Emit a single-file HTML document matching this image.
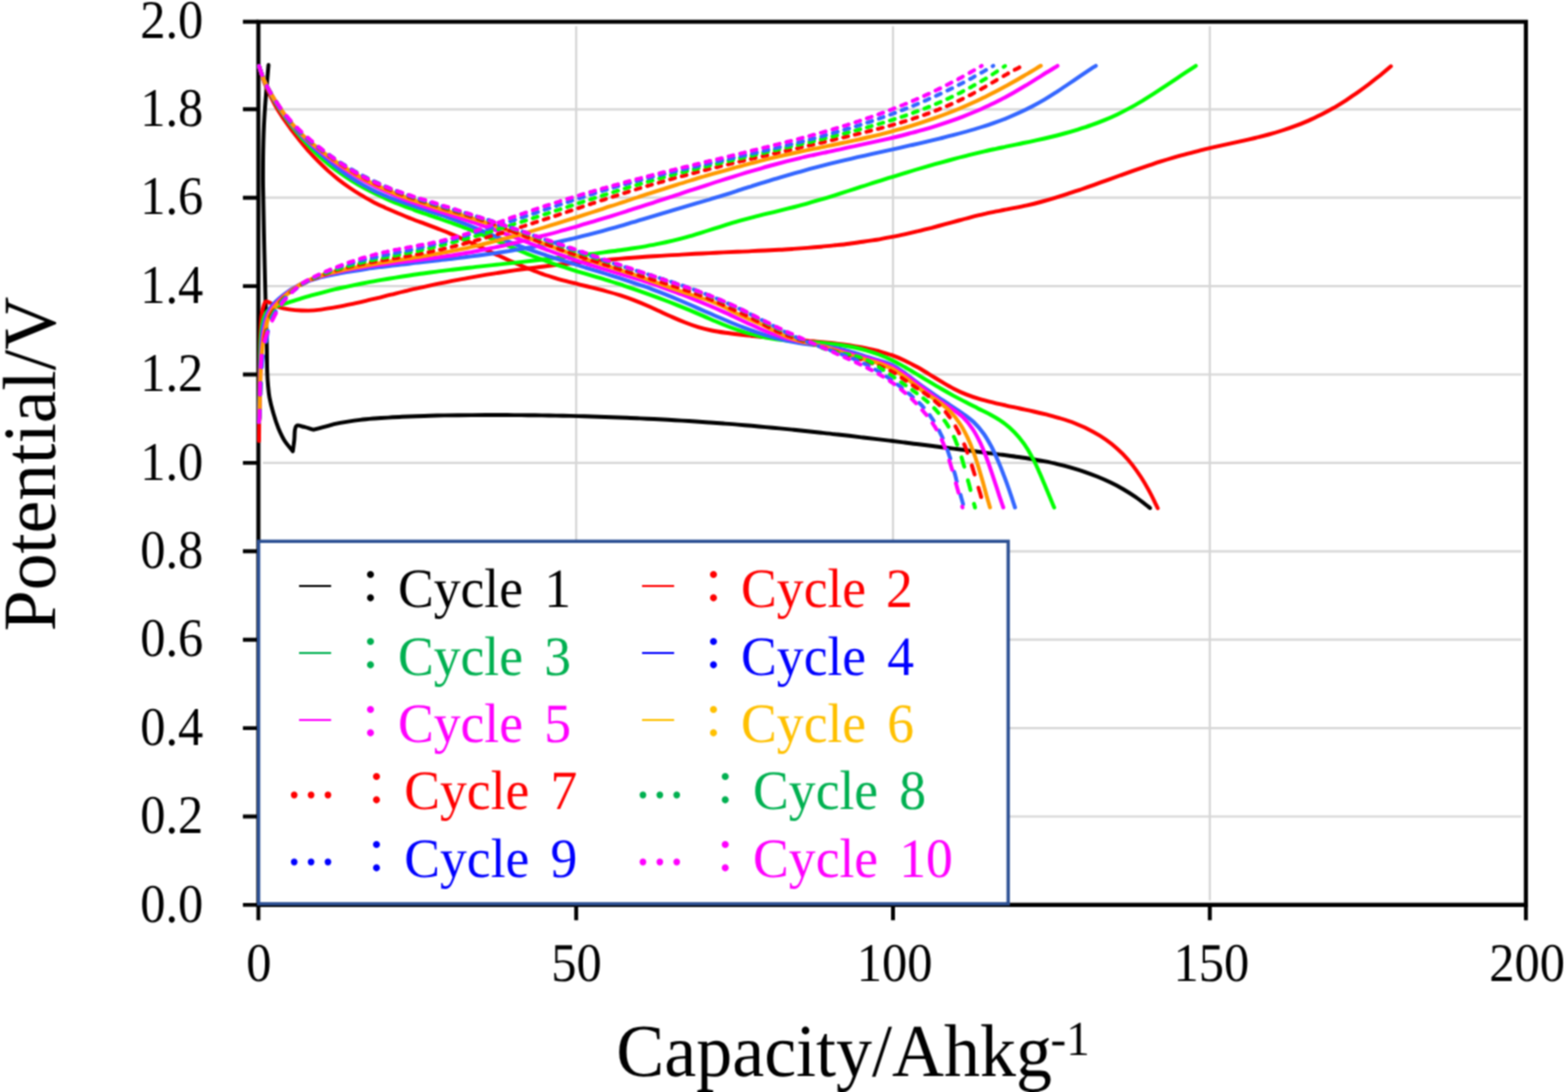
<!DOCTYPE html>
<html lang="en"><head><meta charset="utf-8"><title>Charge-discharge curves</title>
<style>html,body{margin:0;padding:0;background:#fff}body{width:1566px;height:1092px;overflow:hidden}svg{display:block}text{text-rendering:geometricPrecision}.t{font-family:"Liberation Serif","Noto Serif CJK SC",serif;fill:#000}.j{font-family:"Noto Sans CJK JP","Noto Sans CJK SC",sans-serif}.m{font-family:"Noto Serif CJK SC","Noto Sans CJK JP",serif}.c{fill:none;stroke-width:3.9;stroke-linecap:round;stroke-linejoin:round}.d{stroke-linecap:round}</style></head><body>
<svg width="1566" height="1092" viewBox="0 0 1566 1092">
<defs><filter id="soft" x="0" y="0" width="1566" height="1092" filterUnits="userSpaceOnUse" color-interpolation-filters="sRGB"><feConvolveMatrix order="3" kernelMatrix="1 2 1 2 4 2 1 2 1" divisor="16" edgeMode="duplicate" preserveAlpha="true"/></filter></defs>
<g filter="url(#soft)">
<rect width="1566" height="1092" fill="#fff"/>
<path d="M262.9 816.5H1521.4M262.9 728.1H1521.4M262.9 639.7H1521.4M262.9 551.3H1521.4M262.9 462.9H1521.4M262.9 374.5H1521.4M262.9 286.1H1521.4M262.9 197.7H1521.4M262.9 109.3H1521.4M576.2 26.2V900.4M893.0 26.2V900.4M1209.8 26.2V900.4" stroke="#d6d6d6" stroke-width="2.2" fill="none"/>
<g stroke="#000" stroke-width="4.1" fill="none">
<path d="M258.4 21.7H1525.9V904.9H258.4Z"/>
<path d="M242.9 904.9H258.4M242.9 816.5H258.4M242.9 728.1H258.4M242.9 639.7H258.4M242.9 551.3H258.4M242.9 462.9H258.4M242.9 374.5H258.4M242.9 286.1H258.4M242.9 197.7H258.4M242.9 109.3H258.4M242.9 21.7H258.4M258.4 904.9V920.2M576.2 904.9V920.2M893.0 904.9V920.2M1209.8 904.9V920.2M1525.9 904.9V920.2" stroke-width="3.9"/>
</g>
<g class="c">
<path d="M268.5 65.0C267.8 73.7 267.0 82.3 266.3 91.0C265.6 99.7 264.9 107.8 264.4 117.0C263.8 127.3 263.4 139.3 263.2 150.0C263.0 160.2 263.0 171.0 263.0 180.0C263.0 187.3 263.2 191.8 263.3 200.0C263.5 212.9 263.9 233.3 264.3 250.0C264.7 266.7 265.1 284.3 265.5 300.0C265.9 314.1 266.4 327.4 266.7 340.0C267.0 351.3 266.9 363.7 267.2 372.0C267.4 377.3 267.6 380.7 268.0 385.0C268.4 389.3 268.7 393.3 269.5 397.7C270.4 402.6 271.8 407.9 273.3 413.0C274.8 418.2 276.5 423.6 278.5 428.5C280.4 433.0 282.4 437.4 284.9 441.3C287.2 444.9 290.2 447.9 292.8 451.2L292.8 451.2C293.3 447.5 293.9 443.8 294.3 440.0C294.7 436.2 294.4 431.0 295.2 428.5C295.6 427.1 296.0 426.1 297.0 425.6C298.5 424.9 301.6 426.3 304.1 426.9C307.1 427.6 310.5 428.8 313.7 429.7L313.7 429.7C316.9 428.9 320.0 428.1 323.3 427.2C326.8 426.3 330.3 425.1 334.0 424.2C338.0 423.3 342.1 422.5 346.4 421.8C350.9 421.1 355.6 420.4 360.2 419.9C364.8 419.3 369.5 418.9 374.1 418.5C378.8 418.2 383.4 417.9 388.1 417.6C392.7 417.3 397.4 417.0 402.0 416.8C406.7 416.5 411.4 416.3 416.0 416.2C420.7 416.0 425.4 415.8 430.0 415.7C434.7 415.6 439.3 415.5 444.0 415.4C448.7 415.3 453.3 415.2 458.0 415.2C462.7 415.1 467.3 415.1 472.0 415.1C476.7 415.0 481.3 415.0 486.0 415.0C490.7 415.0 495.3 415.0 500.0 415.0C504.7 415.0 509.3 415.1 514.0 415.1C518.7 415.1 523.3 415.2 528.0 415.2C532.7 415.3 537.3 415.3 542.0 415.4C546.7 415.5 551.3 415.5 556.0 415.6C560.7 415.7 565.3 415.8 570.0 415.9C574.7 416.0 579.3 416.1 584.0 416.3C588.7 416.4 593.3 416.6 598.0 416.7C602.7 416.9 607.3 417.0 612.0 417.2C616.6 417.4 621.3 417.5 626.0 417.7C630.6 417.9 635.3 418.1 640.0 418.4C644.6 418.6 649.3 418.8 653.9 419.0C658.6 419.3 663.3 419.5 667.9 419.8C672.6 420.1 677.2 420.3 681.9 420.6C686.6 420.9 691.2 421.2 695.9 421.5C700.5 421.8 705.2 422.2 709.9 422.5C714.5 422.8 719.2 423.2 723.8 423.5C728.5 423.9 733.1 424.3 737.8 424.6C742.4 425.0 747.1 425.4 751.7 425.8C756.4 426.2 761.0 426.7 765.7 427.1C770.3 427.5 775.0 428.0 779.6 428.4C784.3 428.9 788.9 429.3 793.5 429.8C798.2 430.3 802.8 430.7 807.5 431.2C812.1 431.7 816.8 432.2 821.4 432.7C826.0 433.2 830.7 433.7 835.3 434.3C840.0 434.8 844.6 435.3 849.2 435.8C853.9 436.4 858.5 436.9 863.1 437.5C867.8 438.0 872.4 438.6 877.0 439.1C881.7 439.7 886.3 440.2 890.9 440.8C895.6 441.4 900.2 441.9 904.8 442.5C909.5 443.1 914.1 443.7 918.7 444.2C923.4 444.8 928.0 445.4 932.6 446.0C937.3 446.6 941.9 447.2 946.5 447.7C951.1 448.3 955.8 448.9 960.4 449.5C965.0 450.1 969.7 450.7 974.3 451.3C978.9 451.9 983.5 452.5 988.2 453.1C992.8 453.6 997.4 454.2 1002.1 454.8C1006.7 455.4 1011.3 456.0 1016.0 456.7C1020.6 457.3 1025.2 458.0 1029.8 458.7C1034.4 459.5 1039.0 460.3 1043.6 461.2C1048.2 462.1 1052.8 463.0 1057.4 464.1C1062.0 465.1 1066.5 466.3 1071.0 467.6C1075.5 468.9 1080.0 470.3 1084.5 471.8C1088.9 473.3 1093.4 475.0 1097.7 476.8C1102.1 478.6 1106.4 480.5 1110.7 482.6C1115.0 484.6 1119.2 486.9 1123.3 489.3C1127.4 491.7 1131.4 494.2 1135.4 496.9C1139.3 499.6 1144.3 503.5 1146.9 505.5C1148.3 506.6 1149.0 507.2 1150.0 508.0" stroke="#000"/>
<path d="M259.0 441.0C259.1 427.3 259.3 413.6 259.4 400.0C259.5 386.6 259.5 372.4 259.7 360.0C259.9 349.3 260.0 338.9 260.5 330.0C260.9 322.9 261.1 316.2 262.3 311.0C263.2 307.2 264.1 302.4 265.8 301.5C266.9 300.9 268.5 302.2 270.0 302.8C271.9 303.6 273.9 305.1 276.0 306.0C278.3 307.0 280.1 307.7 283.3 308.3C289.1 309.5 301.2 310.6 308.3 310.6C313.6 310.6 317.6 310.0 322.3 309.4C326.9 308.8 331.6 308.0 336.2 307.2C340.8 306.3 345.4 305.4 349.9 304.4C354.5 303.5 359.1 302.4 363.6 301.3C368.2 300.3 372.7 299.2 377.3 298.1C381.8 297.0 386.3 295.8 390.9 294.7C395.4 293.6 399.9 292.4 404.4 291.4C409.0 290.3 413.5 289.2 418.1 288.2C422.6 287.1 427.1 286.1 431.7 285.1C436.3 284.2 440.8 283.2 445.4 282.3C450.0 281.4 454.5 280.5 459.1 279.6C463.7 278.7 468.3 277.9 472.9 277.1C477.5 276.3 482.1 275.5 486.7 274.7C491.3 274.0 495.9 273.2 500.5 272.5C505.1 271.8 509.7 271.1 514.3 270.4C518.9 269.8 523.5 269.1 528.2 268.5C532.8 267.9 537.4 267.3 542.0 266.7C546.7 266.1 551.3 265.6 555.9 265.0C560.6 264.5 565.2 264.0 569.8 263.5C574.5 263.0 579.1 262.5 583.8 262.0C588.4 261.6 593.0 261.1 597.7 260.7C602.3 260.3 607.0 259.9 611.6 259.5C616.3 259.1 620.9 258.7 625.6 258.3C630.2 258.0 634.9 257.6 639.5 257.3C644.2 256.9 648.8 256.6 653.5 256.3C658.2 256.0 662.8 255.7 667.5 255.4C672.1 255.1 676.8 254.8 681.4 254.6C686.1 254.3 690.8 254.1 695.4 253.8C700.1 253.6 704.7 253.3 709.4 253.1C714.1 252.9 718.7 252.6 723.4 252.4C728.0 252.2 732.7 252.0 737.4 251.8C742.0 251.6 746.7 251.4 751.4 251.1C756.0 250.9 760.7 250.7 765.3 250.5C770.0 250.2 774.7 250.0 779.3 249.7C784.0 249.5 788.6 249.2 793.3 248.9C798.0 248.6 802.6 248.2 807.3 247.9C811.9 247.5 816.6 247.1 821.2 246.7C825.9 246.3 830.5 245.8 835.2 245.3C839.8 244.8 844.5 244.3 849.1 243.7C853.7 243.1 858.4 242.5 863.0 241.8C867.6 241.2 872.2 240.4 876.8 239.7C881.4 238.9 886.0 238.0 890.6 237.1C895.2 236.2 899.8 235.3 904.4 234.3C908.9 233.3 913.5 232.2 918.1 231.2C922.6 230.1 927.1 228.9 931.7 227.8C936.2 226.6 940.7 225.4 945.2 224.2C949.7 223.0 954.2 221.7 958.7 220.5C963.2 219.2 967.7 218.0 972.2 216.8C976.7 215.6 981.2 214.6 985.8 213.6C990.3 212.5 994.9 211.7 999.5 210.8C1004.0 209.9 1008.6 209.1 1013.2 208.2C1017.8 207.3 1022.4 206.4 1027.0 205.3C1031.5 204.3 1036.1 203.2 1040.6 202.0C1045.1 200.8 1049.6 199.5 1054.1 198.1C1058.6 196.8 1063.1 195.4 1067.5 193.9C1072.0 192.5 1076.4 191.0 1080.9 189.5C1085.3 187.9 1089.7 186.4 1094.1 184.8C1098.5 183.2 1102.9 181.7 1107.3 180.1C1111.7 178.5 1116.1 176.9 1120.5 175.3C1124.8 173.8 1129.2 172.2 1133.6 170.6C1138.0 169.1 1142.4 167.6 1146.8 166.1C1151.3 164.6 1155.7 163.2 1160.1 161.7C1164.5 160.3 1169.0 158.9 1173.4 157.6C1177.9 156.3 1182.4 155.0 1186.9 153.8C1191.4 152.6 1195.9 151.4 1200.4 150.3C1204.9 149.2 1209.4 148.2 1214.0 147.2C1218.5 146.2 1223.1 145.2 1227.6 144.2C1232.2 143.2 1236.8 142.2 1241.3 141.2C1245.9 140.1 1250.4 139.1 1255.0 138.0C1259.5 136.9 1264.1 135.7 1268.6 134.5C1273.1 133.3 1277.6 132.0 1282.1 130.5C1286.6 129.1 1291.0 127.6 1295.4 125.9C1299.9 124.3 1304.2 122.5 1308.6 120.6C1312.9 118.8 1317.2 116.7 1321.4 114.6C1325.6 112.4 1329.8 110.1 1333.9 107.8C1337.9 105.4 1342.0 102.9 1346.0 100.3C1349.9 97.7 1353.8 95.1 1357.7 92.4C1361.6 89.6 1365.4 86.8 1369.1 84.0C1372.9 81.1 1376.6 78.1 1380.3 75.2C1383.9 72.3 1387.4 69.3 1390.9 66.3" stroke="#ff0000"/>
<path d="M259.0 66.0C260.0 69.3 260.8 72.5 262.0 76.0C263.3 79.8 264.8 83.7 266.7 88.0C269.0 93.2 272.1 99.8 275.0 105.0C277.6 109.8 279.9 113.4 283.3 118.3C287.8 124.9 295.2 134.9 300.0 140.9C303.3 145.1 305.8 147.9 308.8 151.3C311.8 154.7 314.9 158.0 318.1 161.2C321.3 164.4 324.5 167.6 327.9 170.6C331.3 173.6 334.8 176.6 338.3 179.4C341.9 182.2 345.6 184.9 349.3 187.5C353.1 190.1 356.9 192.6 360.8 194.9C364.8 197.3 368.8 199.5 372.8 201.7C376.9 203.8 381.1 205.8 385.2 207.8C389.4 209.7 393.7 211.5 398.0 213.3C402.2 215.1 406.6 216.8 410.9 218.5C415.2 220.2 419.6 221.8 423.9 223.4C428.3 225.1 432.7 226.7 437.1 228.4C441.4 230.1 445.8 231.8 450.1 233.6C454.5 235.4 458.8 237.3 463.1 239.2C467.3 241.1 471.6 243.0 475.8 245.0C480.1 246.9 484.3 248.9 488.6 250.9C492.8 252.9 497.0 254.9 501.2 256.8C505.5 258.7 509.7 260.7 513.9 262.5C518.2 264.4 522.5 266.3 526.8 268.0C531.1 269.7 535.4 271.4 539.7 273.0C544.1 274.6 548.5 276.0 552.9 277.4C557.3 278.8 561.8 280.0 566.3 281.2C570.8 282.4 575.3 283.5 579.8 284.6C584.3 285.7 588.9 286.8 593.4 287.9C597.9 289.1 602.5 290.2 607.0 291.5C611.5 292.7 616.0 294.0 620.5 295.4C625.0 296.9 629.4 298.4 633.8 300.1C638.2 301.8 642.6 303.6 646.9 305.5C651.2 307.4 655.5 309.4 659.7 311.3C664.0 313.3 668.2 315.3 672.4 317.1C676.7 319.0 680.9 320.8 685.2 322.5C689.5 324.2 693.9 325.8 698.3 327.1C702.7 328.4 707.1 329.5 711.7 330.5C716.2 331.4 720.8 332.1 725.4 332.8C730.0 333.5 734.6 334.0 739.2 334.5C743.9 335.1 748.5 335.6 753.1 336.0C757.8 336.5 762.4 336.9 767.1 337.4C771.7 337.8 776.4 338.2 781.0 338.6C785.7 339.0 790.3 339.4 795.0 339.7C799.6 340.1 804.3 340.5 808.9 341.0C813.6 341.4 818.2 341.8 822.9 342.3C827.5 342.7 832.1 343.2 836.8 343.7C841.4 344.3 846.1 344.8 850.7 345.5C855.3 346.2 860.0 346.9 864.6 347.8C869.2 348.8 873.8 349.8 878.3 351.0C882.8 352.3 887.4 353.6 891.8 355.2C896.3 356.8 900.7 358.7 905.0 360.7C909.3 362.7 913.5 365.0 917.7 367.3C921.8 369.6 925.8 372.1 929.8 374.6C933.8 377.0 937.8 379.5 941.8 381.9C945.7 384.2 949.7 386.6 953.8 388.7C957.8 390.8 961.9 392.7 966.1 394.4C970.4 396.1 974.8 397.6 979.2 398.9C983.6 400.2 988.1 401.3 992.6 402.4C997.1 403.6 1001.6 404.5 1006.2 405.6C1010.7 406.6 1015.3 407.5 1019.9 408.5C1024.4 409.5 1029.0 410.4 1033.6 411.5C1038.1 412.5 1042.7 413.6 1047.2 414.7C1051.7 415.9 1056.3 417.1 1060.8 418.5C1065.3 419.9 1069.8 421.3 1074.2 423.0C1078.6 424.8 1083.0 426.6 1087.2 428.7C1091.5 430.8 1095.7 433.2 1099.8 435.7C1103.9 438.3 1107.9 441.0 1111.7 444.0C1115.5 447.1 1119.2 450.4 1122.7 453.9C1126.1 457.4 1129.4 461.2 1132.5 465.1C1135.5 469.0 1138.4 473.2 1141.1 477.3C1143.8 481.5 1146.3 485.8 1148.7 490.1C1151.1 494.4 1153.8 499.9 1155.4 503.3C1156.4 505.3 1156.9 506.6 1157.7 508.2" stroke="#ff0000"/>
<path d="M259.0 422.0C259.2 414.7 259.4 408.4 259.5 400.0C259.7 388.6 259.7 371.8 260.0 360.0C260.2 350.7 260.4 342.1 261.0 335.0C261.5 329.6 261.9 325.1 263.0 321.0C263.9 317.5 264.7 314.1 266.7 311.7C268.7 309.3 272.2 308.0 275.0 306.7C277.7 305.5 280.1 305.2 283.3 304.2C287.9 302.8 294.7 300.5 300.0 298.8C304.7 297.4 308.9 296.1 313.4 294.9C317.9 293.6 322.3 292.4 326.8 291.3C331.4 290.1 335.9 289.1 340.4 288.0C345.0 287.0 349.5 286.1 354.1 285.1C358.7 284.2 363.2 283.3 367.8 282.4C372.4 281.5 377.0 280.7 381.6 279.9C386.2 279.1 390.8 278.4 395.4 277.6C400.0 276.9 404.6 276.2 409.2 275.5C413.8 274.8 418.4 274.1 423.0 273.5C427.6 272.9 432.3 272.2 436.9 271.6C441.5 271.0 446.1 270.5 450.8 269.9C455.4 269.3 460.0 268.8 464.7 268.2C469.3 267.7 473.9 267.2 478.6 266.6C483.2 266.1 487.9 265.6 492.5 265.1C497.1 264.6 501.8 264.1 506.4 263.6C511.0 263.1 515.7 262.6 520.3 262.1C525.0 261.6 529.6 261.0 534.2 260.5C538.9 260.0 543.5 259.5 548.2 259.0C552.8 258.5 557.4 258.0 562.1 257.4C566.7 256.9 571.3 256.4 576.0 255.8C580.6 255.3 585.3 254.7 589.9 254.1C594.5 253.6 599.1 253.0 603.8 252.4C608.4 251.8 613.0 251.2 617.7 250.5C622.3 249.9 626.9 249.2 631.5 248.5C636.2 247.8 640.8 247.1 645.4 246.3C650.0 245.5 654.6 244.7 659.2 243.7C663.8 242.8 668.3 241.8 672.9 240.7C677.4 239.6 682.0 238.4 686.5 237.1C691.0 235.9 695.5 234.5 700.0 233.1C704.4 231.7 708.9 230.3 713.3 228.9C717.8 227.5 722.2 226.1 726.7 224.7C731.1 223.3 735.6 222.0 740.1 220.7C744.5 219.5 749.0 218.3 753.5 217.1C758.1 215.9 762.6 214.8 767.1 213.7C771.6 212.6 776.2 211.5 780.7 210.4C785.2 209.3 789.8 208.1 794.3 207.0C798.8 205.8 803.3 204.6 807.8 203.3C812.4 202.1 816.8 200.7 821.3 199.4C825.8 198.1 830.3 196.7 834.7 195.3C839.2 193.9 843.6 192.4 848.1 191.0C852.5 189.6 857.0 188.1 861.4 186.7C865.9 185.3 870.3 183.8 874.7 182.4C879.2 181.0 883.6 179.6 888.1 178.2C892.5 176.8 897.0 175.4 901.4 174.1C905.9 172.7 910.4 171.4 914.8 170.0C919.3 168.7 923.8 167.4 928.2 166.1C932.7 164.8 937.2 163.6 941.7 162.3C946.2 161.1 950.7 159.9 955.2 158.7C959.7 157.5 964.2 156.3 968.7 155.2C973.3 154.1 977.8 153.0 982.3 151.9C986.8 150.8 991.4 149.8 995.9 148.8C1000.5 147.8 1005.1 146.9 1009.6 145.9C1014.2 144.9 1018.8 144.0 1023.3 143.0C1027.9 142.1 1032.5 141.1 1037.0 140.1C1041.6 139.1 1046.1 138.1 1050.7 137.0C1055.2 135.9 1059.8 134.7 1064.3 133.5C1068.8 132.3 1073.3 131.0 1077.8 129.6C1082.3 128.2 1086.8 126.8 1091.2 125.2C1095.6 123.6 1100.0 121.9 1104.4 120.1C1108.8 118.3 1113.1 116.4 1117.3 114.4C1121.6 112.4 1125.8 110.2 1130.0 107.9C1134.1 105.7 1138.2 103.3 1142.3 100.9C1146.3 98.4 1150.3 95.9 1154.2 93.4C1158.2 90.8 1162.1 88.2 1166.0 85.6C1169.9 83.0 1173.8 80.4 1177.7 77.8C1181.5 75.2 1186.0 72.3 1189.3 70.1C1191.8 68.4 1193.6 67.2 1195.8 65.8" stroke="#00ff00"/>
<path d="M259.0 66.0C260.0 69.0 260.8 71.8 262.0 75.0C263.3 78.6 264.8 82.4 266.7 86.5C269.0 91.3 272.0 96.9 275.0 102.0C278.1 107.1 281.2 111.8 285.0 117.0C289.4 123.1 295.5 130.9 300.0 136.3C303.3 140.2 306.0 143.0 309.1 146.3C312.2 149.6 315.5 152.7 318.8 155.8C322.1 158.9 325.6 161.8 329.1 164.7C332.6 167.6 336.3 170.3 340.0 172.9C343.7 175.6 347.5 178.1 351.4 180.5C355.3 183.0 359.2 185.3 363.3 187.5C367.3 189.7 371.4 191.8 375.5 193.8C379.7 195.9 383.9 197.8 388.1 199.6C392.4 201.4 396.7 203.2 401.0 204.9C405.3 206.6 409.7 208.2 414.0 209.8C418.4 211.4 422.8 212.9 427.2 214.4C431.6 216.0 436.0 217.5 440.4 219.0C444.8 220.5 449.2 222.0 453.6 223.6C458.0 225.2 462.4 226.8 466.8 228.5C471.2 230.2 475.5 232.0 479.9 233.7C484.2 235.5 488.5 237.3 492.8 239.2C497.1 241.0 501.4 242.9 505.7 244.7C510.0 246.5 514.3 248.4 518.6 250.2C522.9 252.0 527.2 253.8 531.5 255.5C535.8 257.2 540.1 258.9 544.5 260.5C548.8 262.1 553.2 263.6 557.6 265.1C562.0 266.5 566.5 267.9 570.9 269.3C575.4 270.7 579.8 272.0 584.3 273.3C588.8 274.7 593.2 276.0 597.7 277.4C602.2 278.7 606.6 280.1 611.1 281.5C615.6 282.9 620.0 284.4 624.4 285.8C628.9 287.3 633.3 288.8 637.7 290.3C642.2 291.9 646.6 293.5 651.0 295.1C655.4 296.7 659.7 298.3 664.1 300.0C668.5 301.6 672.8 303.3 677.2 305.1C681.5 306.8 685.9 308.6 690.2 310.4C694.5 312.2 698.8 314.0 703.1 315.9C707.4 317.7 711.7 319.7 716.0 321.5C720.2 323.3 724.5 325.1 728.8 326.8C733.1 328.4 737.5 330.0 741.9 331.4C746.3 332.8 750.7 334.0 755.2 335.1C759.7 336.3 764.2 337.2 768.8 338.1C773.4 338.9 778.0 339.6 782.6 340.1C787.2 340.7 791.8 341.0 796.5 341.4C801.1 341.7 805.8 341.9 810.4 342.2C815.1 342.5 819.8 342.7 824.4 343.1C829.1 343.5 833.7 344.0 838.4 344.7C843.0 345.3 847.6 346.1 852.2 347.0C856.8 347.9 861.4 349.0 866.0 350.3C870.5 351.6 875.0 353.1 879.4 354.8C883.9 356.5 888.2 358.4 892.5 360.5C896.8 362.5 901.0 364.9 905.1 367.2C909.2 369.5 913.2 372.0 917.2 374.4C921.2 376.8 925.2 379.3 929.2 381.7C933.2 384.1 937.2 386.5 941.2 388.8C945.2 391.1 949.3 393.4 953.3 395.6C957.4 397.8 961.5 400.0 965.6 402.1C969.7 404.3 973.9 406.3 978.0 408.4C982.2 410.5 986.5 412.4 990.6 414.7C994.8 417.0 999.0 419.4 1003.0 422.3C1006.9 425.2 1010.8 428.5 1014.3 432.1C1017.9 435.7 1021.1 439.7 1024.1 443.9C1027.1 448.1 1029.7 452.6 1032.1 457.1C1034.6 461.5 1036.7 466.2 1038.7 470.8C1040.8 475.2 1042.6 479.7 1044.4 484.1C1046.2 488.5 1048.1 493.0 1049.8 497.1C1051.3 500.8 1052.7 504.0 1054.2 507.5" stroke="#00ff00"/>
<path d="M259.0 422.0C259.2 414.7 259.4 408.2 259.6 400.0C259.8 389.7 259.9 375.4 260.3 365.0C260.6 356.5 260.9 349.1 261.5 342.0C262.0 335.9 262.1 330.6 263.5 325.0C264.9 319.3 266.8 313.3 270.0 308.3C273.3 303.2 278.4 298.9 283.3 295.0C288.3 291.0 294.7 287.3 300.0 284.6C304.4 282.4 308.3 281.1 312.6 279.7C317.0 278.2 321.5 277.2 326.0 276.1C330.5 275.1 335.1 274.3 339.6 273.4C344.2 272.6 348.8 271.8 353.4 271.0C358.0 270.3 362.6 269.6 367.2 268.9C371.8 268.2 376.5 267.6 381.1 267.0C385.7 266.4 390.3 265.8 395.0 265.3C399.6 264.7 404.2 264.2 408.9 263.7C413.5 263.1 418.1 262.6 422.8 262.1C427.4 261.6 432.1 261.1 436.7 260.6C441.3 260.0 446.0 259.5 450.6 259.0C455.2 258.4 459.9 257.9 464.5 257.3C469.1 256.7 473.8 256.1 478.4 255.5C483.0 254.9 487.7 254.2 492.3 253.6C496.9 252.9 501.5 252.2 506.1 251.5C510.8 250.8 515.4 250.0 520.0 249.2C524.6 248.4 529.2 247.6 533.8 246.8C538.4 245.9 543.0 245.0 547.5 244.1C552.1 243.2 556.7 242.2 561.3 241.2C565.8 240.2 570.4 239.2 574.9 238.1C579.5 237.0 584.0 235.9 588.6 234.7C593.1 233.5 597.6 232.3 602.1 231.1C606.6 229.8 611.1 228.6 615.6 227.3C620.1 226.0 624.6 224.7 629.1 223.3C633.5 222.0 638.0 220.7 642.5 219.3C647.0 218.0 651.4 216.6 655.9 215.3C660.4 213.9 664.8 212.6 669.3 211.3C673.8 209.9 678.2 208.6 682.7 207.3C687.2 206.0 691.7 204.7 696.1 203.4C700.6 202.1 705.1 200.8 709.6 199.5C714.1 198.1 718.6 196.8 723.0 195.4C727.5 194.0 731.9 192.6 736.4 191.2C740.8 189.7 745.3 188.3 749.7 186.9C754.2 185.5 758.6 184.0 763.0 182.7C767.5 181.3 771.9 179.9 776.4 178.6C780.9 177.2 785.3 175.9 789.8 174.6C794.3 173.3 798.8 172.0 803.3 170.8C807.8 169.5 812.2 168.3 816.8 167.1C821.3 166.0 825.8 164.8 830.3 163.7C834.8 162.6 839.3 161.5 843.9 160.4C848.4 159.3 853.0 158.3 857.5 157.2C862.1 156.2 866.6 155.2 871.2 154.1C875.7 153.1 880.3 152.1 884.8 151.1C889.4 150.1 893.9 149.1 898.5 148.1C903.0 147.1 907.6 146.0 912.2 145.0C916.7 144.0 921.3 142.9 925.8 141.8C930.3 140.8 934.9 139.7 939.4 138.6C944.0 137.5 948.5 136.3 953.0 135.1C957.5 134.0 962.1 132.8 966.6 131.5C971.1 130.2 975.6 128.9 980.1 127.5C984.5 126.1 989.0 124.7 993.4 123.1C997.9 121.5 1002.3 119.9 1006.6 118.2C1011.0 116.4 1015.3 114.6 1019.6 112.6C1023.9 110.6 1028.2 108.5 1032.4 106.3C1036.6 104.1 1040.7 101.8 1044.8 99.4C1048.8 97.0 1052.8 94.4 1056.8 91.9C1060.7 89.3 1064.6 86.7 1068.5 84.0C1072.4 81.4 1076.2 78.8 1080.1 76.2C1083.9 73.6 1088.8 70.3 1091.7 68.4C1093.4 67.3 1094.4 66.7 1095.8 65.8" stroke="#3366ff"/>
<path d="M259.0 66.0C260.0 69.0 260.8 71.9 262.0 75.0C263.3 78.5 264.8 82.1 266.7 86.0C269.0 90.7 272.0 96.1 275.0 101.0C278.1 106.1 281.2 110.9 285.0 116.0C289.4 121.9 295.5 129.1 300.0 134.2C303.4 138.0 306.3 140.7 309.5 143.8C312.8 147.0 316.2 150.1 319.6 153.1C323.1 156.2 326.6 159.2 330.1 162.1C333.6 165.0 337.2 167.9 340.9 170.6C344.6 173.3 348.3 175.9 352.1 178.4C356.0 180.9 359.9 183.2 363.9 185.4C367.9 187.6 372.0 189.7 376.1 191.7C380.3 193.6 384.6 195.4 388.8 197.2C393.1 198.9 397.5 200.5 401.8 202.0C406.2 203.6 410.6 205.1 415.0 206.5C419.4 208.0 423.9 209.4 428.3 210.8C432.8 212.3 437.2 213.7 441.6 215.2C446.1 216.7 450.5 218.3 454.9 219.9C459.3 221.6 463.7 223.3 468.0 225.0C472.4 226.8 476.7 228.6 481.0 230.4C485.3 232.2 489.6 234.0 493.9 235.8C498.2 237.5 502.5 239.3 506.9 241.1C511.2 242.8 515.5 244.5 519.8 246.1C524.2 247.7 528.6 249.3 533.0 250.8C537.4 252.4 541.8 253.8 546.2 255.3C550.6 256.8 555.0 258.2 559.5 259.6C563.9 261.0 568.4 262.4 572.8 263.7C577.3 265.1 581.7 266.5 586.2 267.8C590.7 269.2 595.1 270.5 599.6 271.9C604.1 273.3 608.5 274.7 613.0 276.1C617.4 277.5 621.9 278.9 626.3 280.3C630.8 281.8 635.2 283.3 639.6 284.8C644.1 286.4 648.5 287.9 652.9 289.6C657.3 291.2 661.7 292.9 666.0 294.6C670.4 296.3 674.7 298.1 679.0 300.0C683.3 301.8 687.6 303.7 691.9 305.5C696.2 307.4 700.4 309.3 704.7 311.2C709.0 313.1 713.2 315.0 717.5 316.8C721.8 318.7 726.1 320.5 730.4 322.3C734.7 324.0 739.0 325.8 743.3 327.4C747.6 329.1 752.0 330.7 756.4 332.1C760.8 333.6 765.2 335.0 769.6 336.3C774.1 337.6 778.6 338.8 783.1 339.8C787.6 340.8 792.2 341.7 796.7 342.5C801.3 343.3 805.9 343.9 810.5 344.5C815.2 345.1 819.8 345.5 824.4 346.2C829.1 346.9 833.7 347.6 838.3 348.5C842.9 349.5 847.5 350.8 852.0 352.1C856.5 353.4 860.9 355.0 865.4 356.3C869.9 357.7 874.3 358.9 878.8 360.3C883.3 361.7 888.0 362.8 892.3 364.9C896.7 367.1 900.9 370.3 904.9 373.2C908.7 375.9 912.3 378.9 916.0 381.6C919.7 384.4 923.5 387.1 927.2 389.7C931.0 392.4 934.9 395.0 938.7 397.6C942.6 400.2 946.5 402.7 950.3 405.3C954.2 407.9 958.2 410.3 962.0 413.1C965.9 415.9 970.0 418.6 973.6 422.0C977.3 425.5 980.8 429.7 983.9 434.0C986.9 438.2 989.4 443.0 991.9 447.5C994.2 452.0 996.2 456.7 998.2 461.2C1000.2 465.8 1002.0 470.4 1003.7 475.0C1005.5 479.5 1007.1 484.1 1008.7 488.6C1010.3 493.2 1012.1 498.8 1013.3 502.3C1014.0 504.4 1014.4 505.8 1015.0 507.5" stroke="#3366ff"/>
<path d="M259.0 422.0C259.2 416.3 259.5 411.7 259.7 405.0C260.0 395.4 260.0 380.6 260.5 370.0C260.9 361.2 261.3 353.4 262.0 346.0C262.6 339.6 263.2 333.9 264.5 328.0C265.8 322.2 267.0 316.1 270.0 311.0C273.1 305.6 278.4 300.8 283.3 296.5C288.3 292.1 294.7 287.8 300.0 284.8C304.3 282.3 308.0 280.7 312.2 279.1C316.5 277.5 320.9 276.2 325.3 275.0C329.8 273.8 334.4 272.8 338.9 271.9C343.4 270.9 348.0 270.0 352.6 269.2C357.2 268.4 361.8 267.6 366.4 266.9C371.0 266.2 375.6 265.5 380.2 264.9C384.8 264.2 389.4 263.6 394.1 263.0C398.7 262.4 403.3 261.9 408.0 261.3C412.6 260.7 417.2 260.2 421.8 259.6C426.5 259.0 431.1 258.4 435.7 257.8C440.4 257.1 445.0 256.5 449.6 255.8C454.2 255.1 458.8 254.3 463.4 253.5C468.1 252.7 472.7 251.9 477.2 251.0C481.8 250.1 486.4 249.2 491.0 248.2C495.6 247.3 500.1 246.3 504.7 245.3C509.3 244.2 513.8 243.2 518.4 242.1C522.9 241.0 527.4 239.9 532.0 238.7C536.5 237.6 541.0 236.4 545.5 235.2C550.1 234.0 554.6 232.8 559.1 231.5C563.6 230.3 568.1 229.0 572.6 227.7C577.0 226.4 581.5 225.1 586.0 223.7C590.5 222.4 595.0 221.1 599.4 219.7C603.9 218.3 608.4 217.0 612.8 215.6C617.3 214.2 621.7 212.8 626.2 211.4C630.6 209.9 635.1 208.5 639.5 207.1C644.0 205.7 648.4 204.2 652.9 202.8C657.3 201.3 661.7 199.9 666.2 198.4C670.6 197.0 675.0 195.5 679.5 194.1C683.9 192.6 688.3 191.1 692.8 189.7C697.2 188.2 701.6 186.8 706.1 185.3C710.5 183.9 714.9 182.5 719.4 181.0C723.8 179.6 728.3 178.2 732.7 176.8C737.2 175.4 741.6 174.1 746.1 172.7C750.5 171.4 755.0 170.1 759.5 168.8C764.0 167.5 768.4 166.2 772.9 165.0C777.4 163.8 781.9 162.6 786.4 161.4C791.0 160.3 795.5 159.2 800.0 158.1C804.5 157.0 809.1 156.0 813.6 155.0C818.2 153.9 822.7 153.0 827.3 152.0C831.9 151.0 836.4 150.0 841.0 149.1C845.5 148.1 850.1 147.1 854.7 146.2C859.2 145.2 863.8 144.2 868.4 143.2C872.9 142.2 877.5 141.2 882.1 140.2C886.6 139.1 891.2 138.1 895.7 137.0C900.2 135.9 904.8 134.7 909.3 133.5C913.8 132.3 918.4 131.1 922.9 129.8C927.4 128.5 931.8 127.2 936.3 125.8C940.8 124.4 945.2 123.0 949.7 121.4C954.1 119.9 958.5 118.3 962.9 116.6C967.3 114.9 971.7 113.1 976.0 111.3C980.3 109.5 984.6 107.5 988.9 105.5C993.1 103.5 997.3 101.4 1001.5 99.3C1005.7 97.1 1009.8 94.8 1013.9 92.5C1018.0 90.1 1022.1 87.7 1026.1 85.3C1030.1 82.8 1034.1 80.3 1038.0 77.9C1042.0 75.4 1046.4 72.6 1049.9 70.5C1052.7 68.7 1055.0 67.4 1057.5 65.8" stroke="#ff00ff"/>
<path d="M259.0 66.0C260.0 69.0 260.8 71.9 262.0 75.0C263.3 78.5 264.8 82.1 266.7 85.9C269.0 90.5 272.0 95.7 275.0 100.5C278.1 105.5 281.2 110.4 285.0 115.5C289.4 121.3 295.4 128.3 300.0 133.2C303.5 136.9 306.4 139.5 309.8 142.5C313.1 145.5 316.7 148.5 320.2 151.3C323.8 154.2 327.4 157.0 331.1 159.8C334.8 162.5 338.5 165.2 342.3 167.7C346.2 170.3 350.0 172.7 354.0 175.1C357.9 177.5 361.9 179.7 366.0 181.9C370.0 184.1 374.2 186.1 378.3 188.1C382.5 190.1 386.7 192.0 391.0 193.8C395.2 195.7 399.5 197.4 403.8 199.1C408.1 200.8 412.5 202.3 416.9 203.9C421.3 205.5 425.7 207.0 430.1 208.4C434.5 209.9 438.9 211.3 443.4 212.7C447.8 214.2 452.3 215.6 456.7 217.0C461.1 218.4 465.6 219.8 470.0 221.3C474.5 222.8 478.9 224.2 483.3 225.8C487.8 227.3 492.2 228.9 496.6 230.5C501.0 232.1 505.3 233.8 509.7 235.5C514.1 237.1 518.4 238.8 522.8 240.5C527.1 242.2 531.5 243.9 535.8 245.5C540.2 247.2 544.5 248.9 548.9 250.5C553.3 252.2 557.6 253.8 562.0 255.4C566.4 257.0 570.8 258.5 575.2 260.0C579.6 261.5 584.0 262.9 588.4 264.3C592.9 265.7 597.3 267.0 601.8 268.4C606.2 269.7 610.7 271.0 615.2 272.3C619.7 273.6 624.2 275.0 628.6 276.3C633.1 277.7 637.6 279.1 642.0 280.5C646.5 281.9 650.9 283.4 655.4 284.9C659.8 286.4 664.2 288.0 668.6 289.6C673.0 291.2 677.4 292.8 681.8 294.5C686.1 296.2 690.5 297.9 694.8 299.6C699.2 301.4 703.5 303.2 707.8 305.0C712.1 306.8 716.4 308.7 720.7 310.6C725.0 312.5 729.3 314.4 733.5 316.4C737.8 318.4 742.0 320.4 746.2 322.4C750.4 324.3 754.6 326.3 758.9 328.2C763.1 330.0 767.4 331.8 771.7 333.5C776.0 335.1 780.4 336.6 784.8 337.8C789.2 339.1 793.7 340.1 798.2 341.1C802.8 342.1 807.4 342.9 811.9 343.9C816.5 344.8 821.1 345.8 825.7 346.9C830.2 348.0 834.7 349.3 839.3 350.5C843.8 351.8 848.2 353.1 852.7 354.3C857.2 355.5 861.7 356.6 866.2 357.9C870.8 359.1 875.3 360.2 879.8 361.8C884.3 363.4 888.8 365.1 893.1 367.3C897.4 369.5 901.5 372.2 905.5 374.9C909.5 377.6 913.2 380.6 917.0 383.5C920.8 386.3 924.4 389.3 928.1 392.1C931.8 394.9 935.4 397.7 939.1 400.3C942.9 403.0 946.8 405.1 950.6 407.8C954.6 410.6 958.8 413.3 962.4 416.7C966.1 420.3 969.6 424.6 972.6 429.0C975.6 433.4 978.0 438.2 980.3 442.9C982.6 447.6 984.5 452.4 986.3 457.2C988.1 461.8 989.7 466.5 991.2 471.1C992.8 475.7 994.2 480.2 995.7 484.7C997.2 489.1 998.7 493.9 1000.0 497.9C1001.2 501.4 1002.2 504.3 1003.3 507.5" stroke="#ff00ff"/>
<path d="M259.0 422.0C259.2 417.3 259.5 413.7 259.7 408.0C260.0 399.1 260.1 384.5 260.6 374.0C261.0 365.0 261.4 356.6 262.2 349.0C262.9 342.5 263.7 336.9 265.0 331.0C266.3 325.2 267.2 319.4 270.0 314.0C273.1 308.1 278.3 302.4 283.3 297.5C288.3 292.6 294.7 287.9 300.0 284.6C304.2 282.0 307.9 280.4 312.1 278.7C316.3 277.0 320.7 275.7 325.1 274.4C329.5 273.1 334.0 272.1 338.5 271.1C343.1 270.0 347.6 269.1 352.2 268.2C356.8 267.2 361.3 266.4 365.9 265.5C370.5 264.7 375.1 263.9 379.7 263.1C384.3 262.4 388.9 261.6 393.5 260.9C398.1 260.2 402.7 259.5 407.3 258.7C411.9 258.0 416.6 257.3 421.2 256.5C425.8 255.8 430.4 255.0 435.0 254.2C439.6 253.4 444.2 252.6 448.8 251.7C453.4 250.8 457.9 249.9 462.5 248.9C467.1 247.9 471.7 246.9 476.2 245.8C480.8 244.8 485.3 243.7 489.8 242.5C494.4 241.4 498.9 240.2 503.4 239.0C507.9 237.8 512.5 236.6 517.0 235.3C521.5 234.1 526.0 232.8 530.4 231.5C534.9 230.2 539.4 228.8 543.9 227.5C548.4 226.1 552.8 224.8 557.3 223.4C561.7 222.0 566.2 220.6 570.7 219.2C575.1 217.8 579.6 216.3 584.0 214.9C588.4 213.5 592.9 212.0 597.3 210.6C601.8 209.1 606.2 207.7 610.6 206.2C615.1 204.8 619.5 203.3 623.9 201.9C628.4 200.4 632.8 198.9 637.2 197.5C641.7 196.0 646.1 194.6 650.5 193.2C655.0 191.7 659.4 190.3 663.9 188.9C668.3 187.4 672.7 186.0 677.2 184.6C681.6 183.3 686.1 181.9 690.6 180.5C695.0 179.1 699.5 177.8 703.9 176.5C708.4 175.2 712.9 173.8 717.4 172.6C721.8 171.3 726.3 170.0 730.8 168.8C735.3 167.5 739.8 166.3 744.3 165.1C748.8 163.9 753.3 162.7 757.8 161.6C762.4 160.4 766.9 159.3 771.4 158.2C775.9 157.1 780.5 156.1 785.0 155.0C789.6 154.0 794.1 153.0 798.7 152.0C803.2 151.0 807.8 150.1 812.4 149.1C816.9 148.2 821.5 147.3 826.1 146.3C830.6 145.4 835.2 144.5 839.8 143.5C844.4 142.5 848.9 141.6 853.5 140.6C858.1 139.6 862.6 138.6 867.2 137.5C871.7 136.5 876.3 135.4 880.8 134.3C885.4 133.1 889.9 132.0 894.4 130.7C898.9 129.5 903.4 128.2 907.9 126.9C912.4 125.5 916.9 124.2 921.3 122.7C925.8 121.2 930.2 119.7 934.6 118.2C939.1 116.6 943.5 115.0 947.8 113.3C952.2 111.6 956.6 109.8 960.9 108.0C965.2 106.2 969.5 104.3 973.8 102.3C978.0 100.4 982.3 98.3 986.5 96.3C990.7 94.2 994.9 92.0 999.1 89.8C1003.2 87.6 1007.3 85.3 1011.4 83.0C1015.5 80.8 1019.6 78.4 1023.6 76.0C1027.7 73.7 1032.5 70.8 1035.7 68.9C1037.8 67.6 1039.1 66.8 1040.8 65.8" stroke="#ff9900"/>
<path d="M259.0 66.0C260.0 69.0 260.8 71.9 262.0 75.0C263.3 78.5 264.8 82.0 266.7 85.8C269.0 90.3 272.0 95.4 275.0 100.2C278.1 105.2 281.1 110.1 285.0 115.2C289.3 120.9 295.4 127.7 300.0 132.5C303.5 136.1 306.5 138.6 309.9 141.6C313.4 144.6 317.0 147.4 320.6 150.2C324.2 153.1 327.9 155.9 331.6 158.6C335.3 161.3 339.1 163.9 342.9 166.4C346.8 168.9 350.7 171.4 354.6 173.7C358.6 176.1 362.6 178.3 366.7 180.4C370.8 182.6 374.9 184.6 379.1 186.5C383.3 188.5 387.5 190.3 391.8 192.1C396.1 193.9 400.4 195.5 404.7 197.1C409.1 198.7 413.5 200.3 417.9 201.7C422.3 203.2 426.7 204.6 431.1 206.0C435.6 207.4 440.0 208.8 444.5 210.1C449.0 211.5 453.4 212.8 457.9 214.1C462.4 215.4 466.9 216.8 471.3 218.1C475.8 219.5 480.3 220.9 484.7 222.4C489.2 223.8 493.6 225.3 498.0 226.8C502.5 228.4 506.9 229.9 511.3 231.5C515.7 233.1 520.0 234.7 524.4 236.3C528.8 238.0 533.2 239.6 537.5 241.3C541.9 242.9 546.3 244.6 550.6 246.2C555.0 247.9 559.4 249.5 563.7 251.2C568.1 252.8 572.5 254.4 576.9 255.9C581.2 257.5 585.6 259.0 590.1 260.5C594.5 261.9 598.9 263.4 603.3 264.8C607.8 266.2 612.2 267.7 616.7 269.1C621.1 270.5 625.5 272.0 630.0 273.4C634.4 274.9 638.8 276.4 643.3 278.0C647.7 279.5 652.1 281.1 656.5 282.6C660.9 284.2 665.3 285.8 669.7 287.3C674.1 288.9 678.5 290.4 682.9 292.0C687.3 293.5 691.7 295.0 696.1 296.4C700.5 297.9 705.0 299.1 709.4 300.7C713.9 302.4 718.3 304.2 722.7 306.2C726.9 308.2 731.0 310.7 735.2 312.7C739.3 314.7 743.5 316.5 747.7 318.4C752.0 320.3 756.3 322.0 760.6 324.0C764.9 326.0 769.1 328.2 773.4 330.3C777.5 332.3 781.5 334.6 785.7 336.3C790.0 338.0 794.3 339.3 798.7 340.5C803.2 341.7 807.7 342.6 812.3 343.7C816.8 344.9 821.4 346.0 825.9 347.3C830.4 348.6 834.8 350.2 839.3 351.7C843.7 353.1 848.1 354.7 852.6 356.0C857.0 357.4 861.5 358.6 865.9 359.8C870.4 361.1 875.0 362.0 879.5 363.6C884.0 365.2 888.6 366.9 892.8 369.2C897.1 371.5 901.1 374.5 905.1 377.4C909.0 380.2 912.5 383.3 916.3 386.1C919.9 388.9 923.5 391.7 927.3 394.3C931.0 397.0 935.0 399.2 938.8 402.0C942.7 404.9 946.8 407.9 950.3 411.5C953.9 415.2 957.2 419.6 960.1 424.0C963.0 428.4 965.4 433.1 967.7 437.9C969.9 442.6 971.8 447.4 973.6 452.3C975.4 457.1 976.9 462.0 978.4 466.8C979.8 471.5 981.1 476.1 982.5 480.8C983.8 485.3 985.0 489.9 986.2 494.4C987.5 498.8 988.7 503.1 990.0 507.5" stroke="#ff9900"/>
<path class="d" d="M259.0 422.0L259.0 421.3L259.3 417.8L259.5 414.2L259.7 410.7M260.2 394.5L260.2 394.2L260.2 392.0L260.3 389.7L260.3 387.5L260.4 385.3L260.5 383.1M261.2 367.0L261.3 365.6L261.5 362.4L261.7 359.4L261.9 356.4L262.0 355.8M264.2 340.5L264.4 339.5L265.0 336.2L265.7 332.9L266.3 330.2M270.1 316.9L270.6 315.8L271.2 314.6L271.9 313.4L272.6 312.2L273.4 311.0L273.9 310.2M279.9 302.3L280.4 301.6L281.4 300.6L282.3 299.5L283.3 298.5L284.2 297.6M290.6 292.1L291.5 291.5L292.6 290.7L293.7 289.9L294.8 289.1L295.2 288.8M301.8 284.6L302.3 284.3L303.8 283.4L305.3 282.6L306.5 282.1M313.1 278.9L313.6 278.7L315.2 278.0L316.8 277.3L317.9 276.9M324.6 274.3L324.8 274.2L326.4 273.6L328.0 273.0L329.3 272.6M336.1 270.5L336.3 270.4L338.0 269.9L339.7 269.4L340.8 269.1M347.6 267.3L348.0 267.2L349.7 266.8L351.4 266.4L352.4 266.2M359.1 264.7L359.9 264.5L360.8 264.3L361.6 264.1L362.5 264.0L363.3 263.8L363.9 263.6M370.7 262.3L371.0 262.3L372.7 262.0L374.5 261.7L375.5 261.5M382.3 260.3L383.0 260.2L383.9 260.0L384.7 259.9L385.6 259.8L386.5 259.6L387.1 259.5M393.8 258.4L394.2 258.3L396.0 258.1L397.7 257.8L398.6 257.6M405.4 256.5L405.5 256.4L407.3 256.1L409.0 255.8L410.2 255.6M417.0 254.4L417.6 254.3L418.5 254.1L419.3 254.0L420.2 253.8L421.1 253.6L421.8 253.5M428.5 252.2L428.8 252.1L430.5 251.7L432.2 251.4L433.3 251.1M440.1 249.6L440.8 249.5L441.6 249.3L442.5 249.1L443.3 248.9L444.2 248.7L444.9 248.5M451.6 246.9L451.8 246.9L453.5 246.4L455.3 246.0L456.4 245.7M463.2 244.0L463.7 243.8L464.6 243.6L465.4 243.4L466.3 243.2L467.1 242.9L467.9 242.7M474.7 240.9L474.8 240.9L476.5 240.4L478.2 239.9L479.5 239.6M486.2 237.6L486.6 237.5L488.3 237.0L490.0 236.5L491.0 236.2M497.7 234.2L498.3 234.0L499.2 233.8L500.0 233.5L500.9 233.3L501.7 233.0L502.5 232.8M509.2 230.7L510.1 230.5L510.9 230.2L511.7 229.9L512.6 229.7L513.4 229.4L514.0 229.2M520.7 227.1L520.9 227.1L522.6 226.5L524.3 226.0L525.5 225.6M532.2 223.4L532.6 223.3L534.3 222.7L535.9 222.2L537.0 221.8M543.7 219.7L544.3 219.5L545.9 218.9L547.6 218.4L548.5 218.1M555.2 215.9L555.9 215.6L556.8 215.3L557.6 215.1L558.4 214.8L559.2 214.5L560.0 214.2M566.7 212.0L566.7 212.0L568.4 211.4L570.0 210.9L571.5 210.4M578.2 208.2L578.3 208.1L580.0 207.6L581.6 207.0L582.9 206.6M589.7 204.3L589.9 204.3L591.6 203.7L593.2 203.2L594.4 202.8M601.2 200.5L601.5 200.4L603.2 199.9L604.9 199.3L605.9 199.0M612.7 196.8L613.2 196.6L614.9 196.1L616.5 195.6L617.4 195.3M624.2 193.1L624.9 192.9L625.7 192.6L626.5 192.3L627.4 192.1L628.2 191.8L628.9 191.6M635.7 189.6L635.7 189.5L637.4 189.0L639.0 188.5L640.4 188.1M647.2 186.0L647.4 185.9L649.0 185.5L650.7 185.0L651.9 184.6M658.7 182.7L659.2 182.5L660.9 182.0L662.5 181.6L663.4 181.3M670.2 179.4L670.9 179.2L671.7 179.0L672.6 178.7L673.4 178.5L674.3 178.2L675.0 178.0M681.7 176.2L681.9 176.2L683.5 175.8L685.2 175.3L686.5 175.0M693.2 173.2L693.7 173.1L695.4 172.6L697.0 172.2L698.0 171.9M704.8 170.2L705.5 170.0L706.4 169.8L707.2 169.6L708.1 169.4L708.9 169.2L709.6 169.0M716.3 167.3L716.5 167.3L718.2 166.8L719.9 166.4L721.1 166.1M727.9 164.5L728.5 164.3L729.3 164.1L730.1 163.9L731.0 163.7L731.8 163.5L732.6 163.3M739.4 161.7L739.5 161.6L741.2 161.2L742.9 160.8L744.2 160.5M750.9 158.9L751.4 158.8L753.1 158.4L754.8 158.0L755.7 157.8M762.5 156.3L762.5 156.2L764.2 155.9L765.9 155.5L767.3 155.2M774.0 153.6L774.4 153.5L776.1 153.1L777.8 152.7L778.8 152.5M785.6 150.9L786.3 150.7L787.2 150.5L788.0 150.3L788.9 150.1L789.7 149.9L790.4 149.8M797.1 148.3L797.4 148.2L799.1 147.8L800.8 147.4L801.9 147.1M808.7 145.6L809.4 145.4L810.2 145.2L811.1 145.0L811.9 144.8L812.8 144.6L813.4 144.5M820.2 142.9L820.5 142.9L822.2 142.5L823.9 142.1L825.0 141.8M831.8 140.2L832.4 140.0L833.3 139.8L834.1 139.6L835.0 139.4L835.8 139.2L836.5 139.0M843.3 137.5L843.5 137.4L845.2 137.0L846.9 136.6L848.1 136.3M854.8 134.7L855.4 134.6L857.1 134.2L858.8 133.7L859.6 133.5M866.4 131.8L866.4 131.8L868.1 131.4L869.8 131.0L871.1 130.6M877.9 128.9L878.3 128.8L880.0 128.4L881.7 127.9L882.7 127.7M889.4 125.8L890.2 125.6L891.0 125.4L891.9 125.1L892.7 124.9L893.5 124.7L894.2 124.5M901.0 122.5L901.1 122.4L902.8 121.9L904.5 121.4L905.7 121.1M912.5 118.9L912.9 118.7L914.5 118.2L916.2 117.6L917.2 117.3M923.9 115.0L924.5 114.8L926.2 114.2L927.8 113.6L928.7 113.3M935.4 110.7L936.1 110.4L936.9 110.1L937.7 109.8L938.5 109.5L939.4 109.1L940.1 108.8M946.8 106.1L947.5 105.8L949.1 105.1L950.7 104.4L951.6 104.0M958.2 101.0L958.8 100.7L960.4 99.9L962.0 99.2L962.9 98.7M969.6 95.3L969.8 95.2L971.4 94.4L973.0 93.6L974.3 92.9M980.9 89.2L981.5 88.9L983.0 88.0L984.6 87.2L985.6 86.6M992.2 82.7L992.2 82.7L993.7 81.8L995.2 80.9L996.8 80.1L996.8 80.0M1003.4 76.1L1003.5 76.1L1005.0 75.2L1006.5 74.4L1008.0 73.5L1008.1 73.4M1014.7 69.8L1014.7 69.8L1016.4 69.0L1017.9 68.2L1019.2 67.5L1019.4 67.3" stroke="#ff0000"/>
<path class="d" d="M259.0 66.0L259.2 66.6L260.1 69.3L261.0 72.1L262.0 75.0M266.9 86.2L267.1 86.6L268.1 88.4L269.0 90.1L270.1 91.9L270.7 93.0M276.3 102.2L276.7 102.9L277.9 104.8L279.1 106.7L280.3 108.5M286.2 116.6L286.7 117.2L287.6 118.4L288.5 119.5L289.5 120.6L290.4 121.7L290.5 121.8M296.6 128.7L297.3 129.4L298.2 130.3L299.1 131.3L300.0 132.2L300.7 132.9L301.0 133.2M307.4 138.9L307.5 139.0L308.7 140.1L310.0 141.2L311.3 142.3L311.9 142.8M318.4 147.9L318.7 148.1L320.1 149.2L321.5 150.2L322.8 151.3L322.9 151.4M329.4 156.2L329.8 156.4L331.2 157.4L332.6 158.4L334.0 159.4L334.0 159.4M340.6 163.9L341.2 164.3L342.6 165.2L344.0 166.1L345.2 166.9M351.8 170.9L352.1 171.1L353.6 171.9L355.1 172.8L356.5 173.6M363.1 177.2L363.4 177.4L364.9 178.2L366.4 179.0L367.8 179.7M374.4 183.0L375.0 183.2L376.6 184.0L378.1 184.7L379.1 185.1M385.8 188.1L386.1 188.2L387.7 188.8L389.3 189.5L390.6 190.0M397.3 192.6L397.3 192.7L399.0 193.3L400.6 193.9L402.0 194.4M408.7 196.9L408.7 196.9L410.4 197.5L412.0 198.0L413.5 198.5M420.2 200.7L420.3 200.8L421.9 201.3L423.6 201.9L425.0 202.3M431.7 204.4L431.9 204.5L433.6 205.0L435.3 205.5L436.5 205.9M443.2 208.0L443.6 208.1L445.3 208.6L447.0 209.1L448.0 209.4M454.7 211.4L455.3 211.6L456.2 211.8L457.0 212.1L457.9 212.3L458.7 212.6L459.5 212.8M466.2 215.0L467.1 215.2L467.9 215.5L468.7 215.8L469.6 216.0L470.4 216.3L471.0 216.5M477.7 218.6L477.9 218.7L479.6 219.2L481.3 219.8L482.5 220.2M489.2 222.6L489.5 222.7L491.2 223.3L492.9 223.9L494.0 224.3M500.7 226.8L501.1 226.9L502.7 227.5L504.4 228.1L505.4 228.5M512.1 231.1L512.6 231.3L514.2 231.9L515.9 232.5L516.9 232.9M523.6 235.5L524.0 235.7L525.6 236.3L527.3 237.0L528.3 237.4M535.0 240.0L535.4 240.1L537.1 240.8L538.7 241.4L539.8 241.8M546.5 244.3L546.9 244.5L548.5 245.1L550.2 245.7L551.2 246.1M558.0 248.6L558.3 248.7L560.0 249.3L561.6 249.9L562.7 250.3M569.4 252.7L569.9 252.8L571.5 253.4L573.2 254.0L574.2 254.3M580.9 256.6L581.4 256.8L583.1 257.4L584.7 257.9L585.7 258.2M592.4 260.5L593.0 260.7L593.8 261.0L594.6 261.2L595.5 261.5L596.3 261.8L597.1 262.0M603.9 264.2L604.6 264.5L605.5 264.7L606.3 265.0L607.1 265.2L607.9 265.5L608.6 265.7M615.4 267.9L615.4 267.9L617.1 268.4L618.8 268.9L620.1 269.4M626.9 271.5L627.1 271.6L628.8 272.1L630.5 272.6L631.6 273.0M638.4 275.1L638.8 275.2L640.5 275.8L642.2 276.3L643.1 276.6M649.9 278.6L650.5 278.8L651.4 279.1L652.2 279.3L653.1 279.6L653.9 279.9L654.6 280.1M661.4 282.2L661.4 282.2L663.1 282.7L664.7 283.3L666.1 283.7M672.9 285.9L673.1 286.0L674.7 286.5L676.4 287.0L677.6 287.4M684.4 289.7L684.7 289.8L686.4 290.3L688.1 290.9L689.1 291.3M695.9 293.7L696.4 293.9L698.0 294.5L699.7 295.1L700.6 295.5M707.3 298.0L707.9 298.2L709.5 298.9L711.1 299.5L712.0 299.9M718.7 302.8L719.3 303.1L720.9 303.8L722.5 304.5L723.4 305.0M730.1 308.0L730.5 308.2L732.1 308.9L733.6 309.6L734.8 310.2M741.5 313.2L741.6 313.3L743.2 314.0L744.8 314.7L746.2 315.4M752.9 318.7L753.5 319.1L755.1 319.9L756.7 320.8L757.6 321.2M764.2 324.8L764.5 324.9L766.0 325.7L767.5 326.5L768.9 327.2M775.6 330.5L776.0 330.7L777.5 331.4L779.1 332.0L780.3 332.5M787.0 335.3L787.1 335.3L788.7 335.9L790.4 336.5L791.7 337.0M798.4 339.4L798.6 339.4L800.2 340.0L801.9 340.5L803.2 341.0M809.9 343.2L810.1 343.3L811.8 343.8L813.4 344.4L814.7 344.8M821.4 347.0L821.8 347.1L823.4 347.6L825.1 348.1L826.2 348.5M832.9 350.6L833.4 350.8L835.1 351.3L836.8 351.8L837.7 352.1M844.4 354.2L845.1 354.4L846.0 354.7L846.8 355.0L847.6 355.2L848.5 355.5L849.2 355.8M855.9 358.0L856.0 358.0L857.6 358.5L859.3 359.1L860.7 359.5M867.4 361.8L867.6 361.9L869.3 362.4L870.9 363.0L872.2 363.4M878.9 365.8L879.2 365.9L880.9 366.6L882.5 367.2L883.6 367.7M890.3 370.7L890.7 370.9L892.3 371.7L893.9 372.6L895.0 373.2M901.5 377.7L901.6 377.7L903.1 378.8L904.6 379.8L906.1 380.8L906.1 380.8M912.7 385.3L913.2 385.6L914.6 386.6L916.0 387.6L917.3 388.4M923.8 392.7L924.1 392.9L925.5 393.9L927.0 394.9L928.4 396.0L928.4 396.0M934.9 401.1L934.9 401.1L936.3 402.4L937.7 403.6L939.1 404.9L939.4 405.2M945.6 411.9L945.6 412.0L946.8 413.4L948.0 415.0L949.1 416.5L949.8 417.4M955.5 426.3L955.5 426.3L956.9 428.9L958.3 431.4L959.2 433.3M964.2 444.3L964.4 444.7L965.4 447.3L966.4 450.0L967.4 452.7L967.4 452.8M971.8 465.3L972.0 465.9L972.8 468.6L973.6 471.2L974.4 473.8L974.6 474.5M978.5 487.7L978.7 488.5L979.5 491.2L980.3 493.8L981.0 496.4L981.2 497.1" stroke="#ff0000"/>
<path class="d" d="M259.0 422.0L259.0 421.4L259.3 418.5L259.5 415.6L259.7 412.0L259.8 410.7M260.3 394.6L260.3 392.5L260.4 390.3L260.5 388.1L260.5 386.0L260.6 383.9L260.7 383.2M261.5 367.1L261.5 367.0L261.7 363.9L262.0 360.9L262.3 357.9L262.5 355.9M265.1 341.0L265.3 340.3L266.0 337.0L266.6 333.8L267.1 330.7M271.1 317.7L271.2 317.4L271.9 316.1L272.6 314.8L273.3 313.4L274.1 312.1L274.9 310.8M280.7 302.6L281.4 301.8L282.3 300.6L283.3 299.5L284.2 298.5L285.1 297.6M291.4 291.9L291.5 291.8L292.6 290.9L293.7 290.1L294.8 289.2L295.8 288.4L296.0 288.3M302.5 283.9L303.0 283.6L304.5 282.7L306.0 281.9L307.2 281.3M313.9 278.1L314.2 277.9L315.7 277.2L317.3 276.5L318.6 275.9M325.3 273.3L326.0 273.0L326.8 272.7L327.6 272.4L328.5 272.1L329.3 271.8L330.0 271.5M336.8 269.3L337.5 269.1L338.3 268.8L339.2 268.6L340.0 268.3L340.9 268.1L341.5 267.9M348.3 266.0L348.4 265.9L350.1 265.5L351.7 265.1L353.0 264.7M359.8 263.0L360.2 262.9L361.9 262.5L363.6 262.1L364.6 261.9M371.4 260.4L372.1 260.2L373.0 260.0L373.8 259.9L374.7 259.7L375.5 259.5L376.1 259.4M382.9 258.0L383.2 257.9L384.9 257.6L386.6 257.2L387.7 257.0M394.5 255.7L395.2 255.5L396.1 255.4L397.0 255.2L397.8 255.0L398.7 254.8L399.3 254.7M406.0 253.3L406.4 253.2L408.1 252.9L409.8 252.6L410.8 252.4M417.6 251.0L418.4 250.8L419.2 250.6L420.1 250.4L420.9 250.2L421.8 250.0L422.4 249.9M429.1 248.3L429.5 248.2L431.2 247.8L432.9 247.4L433.9 247.2M440.7 245.5L441.4 245.3L442.3 245.1L443.1 244.9L444.0 244.7L444.8 244.4L445.4 244.3M452.2 242.5L452.5 242.4L454.2 242.0L455.9 241.5L457.0 241.2M463.7 239.4L464.3 239.2L465.2 239.0L466.0 238.8L466.9 238.5L467.7 238.3L468.5 238.1M475.2 236.1L475.3 236.1L477.0 235.6L478.7 235.1L480.0 234.7M486.8 232.7L487.0 232.6L488.7 232.1L490.4 231.6L491.5 231.3M498.3 229.2L498.8 229.0L500.5 228.5L502.2 228.0L503.0 227.7M509.8 225.6L510.5 225.4L511.3 225.1L512.1 224.9L513.0 224.6L513.8 224.3L514.5 224.1M521.3 222.0L521.3 221.9L523.0 221.4L524.7 220.9L526.0 220.5M532.8 218.3L533.0 218.2L534.7 217.6L536.4 217.1L537.5 216.7M544.3 214.5L544.6 214.4L546.3 213.8L548.0 213.3L549.0 212.9M555.7 210.7L556.3 210.6L557.9 210.0L559.6 209.5L560.5 209.2M567.2 207.0L567.9 206.7L568.8 206.4L569.6 206.2L570.4 205.9L571.2 205.6L572.0 205.4M578.7 203.2L578.7 203.2L580.4 202.6L582.1 202.1L583.5 201.6M590.2 199.4L590.4 199.4L592.0 198.8L593.7 198.3L595.0 197.9M601.7 195.8L602.0 195.7L603.7 195.1L605.3 194.6L606.5 194.3M613.2 192.2L613.7 192.0L615.4 191.5L617.0 190.9L618.0 190.7M624.7 188.6L625.4 188.4L626.2 188.1L627.1 187.8L627.9 187.6L628.7 187.3L629.5 187.1M636.2 185.1L636.3 185.1L638.0 184.6L639.6 184.1L641.0 183.7M647.7 181.7L648.0 181.7L649.7 181.2L651.4 180.7L652.5 180.4M659.3 178.5L659.8 178.3L661.4 177.9L663.1 177.4L664.0 177.2M670.8 175.4L671.6 175.2L672.4 174.9L673.3 174.7L674.1 174.5L674.9 174.3L675.6 174.1M682.3 172.3L682.6 172.3L684.3 171.8L686.0 171.4L687.1 171.1M693.8 169.4L694.5 169.3L695.3 169.1L696.1 168.8L697.0 168.6L697.8 168.4L698.6 168.2M705.4 166.6L705.5 166.6L707.2 166.2L708.9 165.7L710.2 165.4M716.9 163.8L717.4 163.7L719.1 163.3L720.8 162.9L721.7 162.6M728.5 161.1L729.3 160.9L730.1 160.7L731.0 160.5L731.8 160.3L732.7 160.1L733.2 159.9M740.0 158.4L740.4 158.3L742.1 157.9L743.8 157.5L744.8 157.3M751.6 155.7L752.3 155.5L753.2 155.3L754.0 155.1L754.9 154.9L755.7 154.7L756.3 154.6M763.1 153.0L763.4 153.0L765.1 152.6L766.8 152.2L767.9 151.9M774.7 150.3L775.3 150.2L776.1 150.0L777.0 149.8L777.9 149.6L778.7 149.4L779.4 149.2M786.2 147.6L786.4 147.6L788.1 147.2L789.8 146.8L791.0 146.5M797.7 144.9L798.3 144.8L799.2 144.6L800.0 144.4L800.9 144.2L801.7 144.0L802.5 143.8M809.3 142.2L809.4 142.2L811.1 141.8L812.8 141.4L814.1 141.1M820.8 139.4L821.3 139.3L823.0 138.8L824.7 138.4L825.6 138.2M832.4 136.5L833.2 136.3L834.0 136.1L834.9 135.9L835.7 135.6L836.6 135.4L837.1 135.3M843.9 133.6L844.2 133.5L845.9 133.0L847.6 132.6L848.7 132.3M855.4 130.5L856.1 130.3L856.9 130.1L857.8 129.9L858.6 129.7L859.4 129.5L860.2 129.2M866.9 127.4L867.1 127.4L868.8 126.9L870.5 126.4L871.7 126.0M878.5 124.1L878.8 124.0L880.5 123.5L882.2 123.0L883.2 122.7M890.0 120.6L890.7 120.4L891.5 120.1L892.3 119.8L893.2 119.6L894.0 119.3L894.7 119.1M901.5 116.9L901.5 116.9L903.1 116.4L904.8 115.8L906.2 115.3M912.9 112.9L913.1 112.8L914.8 112.2L916.4 111.6L917.7 111.2M924.4 108.6L924.7 108.5L926.3 107.9L928.0 107.2L929.1 106.8M935.8 104.0L936.1 103.9L937.7 103.2L939.3 102.5L940.6 102.0M947.2 99.0L947.4 98.9L949.0 98.2L950.5 97.4L952.0 96.7M958.6 93.5L959.3 93.2L960.9 92.4L962.5 91.6L963.3 91.1M970.0 87.6L970.3 87.5L971.8 86.6L973.3 85.7L974.6 85.0M981.2 81.2L981.8 80.9L983.3 80.0L984.9 79.1L985.9 78.5M992.5 74.4L993.1 74.0L994.6 73.0L996.0 72.1L997.1 71.4M1003.6 66.9L1004.3 66.5L1005.0 66.0" stroke="#00ff00"/>
<path class="d" d="M259.0 66.0L259.2 66.6L260.1 69.3L261.0 72.1L262.0 75.0M266.9 86.2L267.1 86.6L268.1 88.4L269.0 90.1L270.1 91.9L270.7 93.0M276.3 102.2L276.7 102.8L277.9 104.7L279.1 106.6L280.3 108.4L280.3 108.5M286.2 116.6L286.7 117.1L287.6 118.2L288.5 119.4L289.5 120.5L290.4 121.6L290.5 121.7M296.7 128.5L297.3 129.1L298.2 130.1L299.1 131.0L300.0 131.9L300.7 132.6L301.1 133.0M307.5 138.7L307.6 138.8L308.8 139.8L310.1 140.9L311.4 142.0L312.0 142.4M318.5 147.4L318.9 147.7L320.2 148.8L321.6 149.8L323.0 150.8L323.0 150.9M329.6 155.5L330.0 155.8L331.4 156.8L332.8 157.8L334.2 158.7M340.7 163.0L340.8 163.1L342.2 164.0L343.7 164.9L345.2 165.8L345.4 165.9M351.9 169.9L352.5 170.2L354.0 171.1L355.5 171.9L356.6 172.5M363.2 176.1L363.9 176.5L365.5 177.3L367.0 178.0L367.9 178.5M374.6 181.8L374.8 181.8L376.4 182.6L377.9 183.3L379.3 184.0M386.0 186.9L386.6 187.2L388.2 187.8L389.8 188.5L390.7 188.9M397.4 191.5L397.9 191.7L399.5 192.3L401.1 192.9L402.2 193.3M408.9 195.7L409.3 195.9L410.9 196.5L412.6 197.0L413.7 197.4M420.4 199.7L420.9 199.9L422.5 200.4L424.2 201.0L425.1 201.3M431.9 203.4L432.5 203.6L433.3 203.9L434.2 204.1L435.0 204.4L435.8 204.6L436.6 204.9M443.4 206.9L444.1 207.2L445.0 207.4L445.8 207.7L446.6 207.9L447.5 208.2L448.1 208.4M454.9 210.4L455.0 210.4L456.7 210.9L458.4 211.4L459.7 211.8M466.4 213.8L466.8 213.9L468.5 214.4L470.2 214.9L471.2 215.2M477.9 217.3L478.5 217.5L479.4 217.8L480.2 218.1L481.0 218.3L481.9 218.6L482.7 218.8M489.4 221.0L489.4 221.0L491.1 221.5L492.8 222.1L494.2 222.5M500.9 224.7L501.1 224.8L502.7 225.3L504.4 225.9L505.7 226.3M512.4 228.7L512.7 228.8L514.4 229.4L516.0 229.9L517.1 230.3M523.9 232.7L524.2 232.8L525.9 233.4L527.5 234.0L528.6 234.4M535.3 236.8L535.8 237.0L537.5 237.5L539.1 238.1L540.1 238.5M546.8 240.9L547.4 241.1L549.0 241.7L550.6 242.3L551.5 242.6M558.3 245.0L558.9 245.2L560.5 245.8L562.1 246.4L563.0 246.7M569.7 249.2L570.4 249.4L572.0 249.9L573.7 250.5L574.5 250.8M581.2 253.2L581.9 253.4L582.7 253.7L583.5 254.0L584.4 254.3L585.2 254.6L586.0 254.8M592.7 257.1L593.5 257.4L594.3 257.6L595.2 257.9L596.0 258.2L596.8 258.5L597.4 258.7M604.2 260.9L604.3 260.9L605.9 261.5L607.6 262.0L608.9 262.4M615.7 264.5L615.9 264.6L617.6 265.1L619.2 265.7L620.4 266.0M627.2 268.2L627.6 268.3L629.3 268.8L631.0 269.3L631.9 269.6M638.7 271.8L639.3 272.0L640.1 272.2L641.0 272.5L641.8 272.8L642.6 273.0L643.4 273.3M650.2 275.4L651.0 275.6L651.8 275.9L652.7 276.2L653.5 276.4L654.3 276.7L654.9 276.9M661.7 279.0L661.9 279.1L663.5 279.6L665.2 280.2L666.4 280.6M673.2 282.9L673.5 283.0L675.2 283.5L676.8 284.1L677.9 284.5M684.7 286.7L685.1 286.9L686.8 287.5L688.4 288.1L689.4 288.5M696.1 290.9L696.6 291.1L698.3 291.7L699.9 292.3L700.9 292.6M707.6 295.2L708.2 295.4L709.8 296.1L711.4 296.7L712.3 297.1M719.0 299.8L719.6 300.0L721.2 300.7L722.9 301.4L723.7 301.8M730.4 304.7L730.9 304.9L732.5 305.6L734.1 306.3L735.2 306.8M741.8 309.9L742.1 310.1L743.7 310.9L745.3 311.6L746.5 312.2M753.2 315.7L753.9 316.1L755.5 317.0L757.0 317.9L757.8 318.4M764.5 322.0L764.7 322.1L766.2 322.9L767.7 323.7L769.2 324.5M775.8 327.7L776.2 327.9L777.8 328.7L779.4 329.4L780.5 329.9M787.2 332.9L787.3 332.9L788.9 333.6L790.5 334.3L791.9 334.9M798.6 337.8L799.3 338.1L800.9 338.8L802.5 339.5L803.3 339.9M810.0 342.8L810.6 343.1L812.2 343.8L813.8 344.4L814.8 344.8M821.5 347.5L821.8 347.7L823.4 348.3L825.0 348.8L826.2 349.2M832.9 351.3L833.2 351.4L834.9 351.9L836.6 352.3L837.7 352.6M844.5 353.8L845.1 353.9L845.9 354.0L846.8 354.1L847.6 354.2L848.5 354.3L849.3 354.4M856.1 356.0L856.3 356.1L858.0 356.6L859.8 357.2L860.8 357.5M867.5 360.3L868.1 360.6L869.7 361.4L871.3 362.4L872.2 362.9M878.8 367.1L879.0 367.2L880.5 368.1L882.0 369.1L883.4 370.0M889.9 374.4L890.1 374.5L891.5 375.5L893.0 376.5L894.4 377.5L894.5 377.6M901.1 382.2L901.7 382.6L903.1 383.6L904.5 384.6L905.7 385.4M912.2 389.9L912.4 390.1L913.8 391.1L915.3 392.2L916.7 393.2L916.8 393.3M923.3 398.2L923.8 398.7L925.2 399.8L926.6 401.0L927.8 402.0M934.1 408.1L934.7 408.7L936.0 410.1L937.2 411.5L938.5 412.9L938.5 412.9M944.4 420.5L944.9 421.1L946.0 422.7L947.1 424.4L948.1 426.0L948.5 426.7M953.8 436.7L954.2 437.5L955.1 439.4L955.8 441.3L956.6 443.2L957.2 444.8M961.5 457.3L961.8 458.1L962.6 460.9L963.4 463.7L964.2 466.4L964.3 466.7M967.9 480.3L967.9 480.4L968.9 483.8L969.8 487.2L970.5 490.0M974.0 503.8L974.1 503.9L974.3 504.8L974.5 505.7L974.8 506.6L975.0 507.5" stroke="#00ff00"/>
<path class="d" d="M259.0 422.0L259.0 421.5L259.3 418.8L259.6 415.8L259.9 410.8M260.4 394.6L260.4 393.1L260.5 391.0L260.6 388.9L260.7 386.9L260.8 384.9L260.9 383.3M261.8 367.2L261.8 366.9L262.1 363.9L262.4 360.9L262.8 358.0L263.1 356.2M266.1 341.8L266.3 341.1L266.9 337.8L267.4 334.5L267.8 331.3L267.9 331.1M271.9 318.3L272.5 316.9L273.3 315.5L274.1 314.0L274.9 312.6L275.7 311.3M281.4 302.8L282.3 301.7L283.3 300.5L284.2 299.4L285.2 298.4L285.8 297.8M292.1 291.9L292.6 291.5L293.7 290.6L294.8 289.7L295.9 288.8L296.6 288.3M303.1 283.6L303.7 283.2L305.2 282.3L306.6 281.5L307.8 280.8M314.4 277.2L314.6 277.1L316.2 276.4L317.7 275.6L319.1 275.0M325.8 272.0L326.4 271.8L328.0 271.2L329.6 270.5L330.6 270.2M337.3 267.6L337.6 267.5L339.3 267.0L340.9 266.4L342.0 266.1M348.8 264.0L349.3 263.8L350.9 263.4L352.6 262.9L353.5 262.6M360.3 260.8L361.0 260.6L361.8 260.4L362.7 260.2L363.5 260.0L364.3 259.8L365.1 259.6M371.8 258.1L372.0 258.0L373.7 257.7L375.4 257.3L376.6 257.0M383.4 255.5L383.9 255.4L384.8 255.2L385.6 255.0L386.5 254.9L387.4 254.7L388.2 254.5M394.9 253.1L395.0 253.1L396.8 252.7L398.5 252.4L399.7 252.1M406.5 250.8L407.0 250.6L407.9 250.4L408.7 250.3L409.6 250.1L410.5 249.9L411.3 249.7M418.1 248.2L418.2 248.2L419.9 247.8L421.6 247.4L422.8 247.1M429.6 245.5L430.1 245.3L431.0 245.1L431.8 244.9L432.7 244.7L433.5 244.5L434.4 244.3M441.1 242.5L441.2 242.5L442.9 242.1L444.6 241.6L445.9 241.3M452.7 239.3L453.0 239.2L454.7 238.8L456.4 238.3L457.4 238.0M464.2 236.0L464.8 235.8L465.6 235.5L466.5 235.3L467.3 235.0L468.2 234.8L468.9 234.6M475.7 232.5L475.7 232.5L477.4 232.0L479.1 231.5L480.4 231.1M487.2 228.9L487.4 228.8L489.1 228.3L490.7 227.7L491.9 227.4M498.7 225.2L499.1 225.1L500.8 224.5L502.4 224.0L503.4 223.6M510.2 221.4L510.7 221.2L512.4 220.7L514.1 220.1L514.9 219.8M521.6 217.6L522.4 217.3L523.2 217.0L524.0 216.8L524.9 216.5L525.7 216.2L526.4 216.0M533.1 213.7L534.0 213.4L534.8 213.1L535.6 212.8L536.4 212.5L537.2 212.3L537.9 212.0M544.6 209.8L544.8 209.7L546.4 209.2L548.1 208.6L549.4 208.2M556.1 205.9L556.3 205.8L558.0 205.2L559.6 204.7L560.9 204.3M567.6 202.1L568.0 202.0L569.6 201.4L571.3 200.8L572.3 200.5M579.1 198.3L579.6 198.1L581.3 197.6L582.9 197.1L583.8 196.8M590.6 194.6L591.3 194.4L592.1 194.1L592.9 193.8L593.8 193.6L594.6 193.3L595.3 193.1M602.1 191.0L602.1 191.0L603.7 190.5L605.4 190.0L606.8 189.6M613.6 187.6L613.8 187.5L615.4 187.0L617.1 186.5L618.3 186.1M625.1 184.3L625.5 184.2L627.2 183.7L628.9 183.2L629.9 183.0M636.6 181.1L637.4 180.9L638.2 180.7L639.0 180.5L639.9 180.2L640.7 180.0L641.4 179.9M648.2 178.1L648.3 178.0L650.0 177.6L651.7 177.1L652.9 176.8M659.7 175.1L660.1 175.0L661.8 174.6L663.5 174.2L664.5 173.9M671.2 172.3L672.1 172.1L672.9 171.9L673.7 171.7L674.6 171.5L675.4 171.3L676.0 171.1M682.8 169.5L683.1 169.4L684.8 169.0L686.5 168.6L687.5 168.4M694.3 166.8L695.0 166.7L695.9 166.5L696.7 166.3L697.6 166.1L698.4 165.9L699.1 165.7M705.9 164.2L706.1 164.1L707.8 163.7L709.5 163.3L710.6 163.0M717.4 161.5L718.0 161.4L718.9 161.2L719.7 161.0L720.6 160.8L721.5 160.6L722.2 160.4M729.0 158.9L729.1 158.8L730.8 158.4L732.5 158.1L733.7 157.8M740.5 156.2L741.1 156.1L741.9 155.9L742.8 155.7L743.6 155.5L744.5 155.3L745.3 155.2M752.0 153.6L752.2 153.6L753.9 153.2L755.6 152.8L756.8 152.5M763.6 150.9L764.1 150.8L765.0 150.6L765.8 150.4L766.7 150.2L767.5 150.0L768.4 149.8M775.1 148.2L775.2 148.2L776.9 147.8L778.6 147.4L779.9 147.1M786.7 145.4L787.1 145.3L788.8 144.9L790.5 144.4L791.4 144.2M798.2 142.5L799.0 142.3L799.8 142.1L800.7 141.9L801.5 141.7L802.4 141.5L803.0 141.3M809.7 139.6L810.0 139.5L811.7 139.0L813.4 138.6L814.5 138.3M821.3 136.5L821.9 136.3L822.7 136.1L823.5 135.9L824.4 135.6L825.2 135.4L826.0 135.1M832.8 133.2L832.8 133.2L834.5 132.7L836.2 132.2L837.6 131.8M844.3 129.8L844.6 129.7L846.3 129.2L848.0 128.7L849.1 128.4M855.8 126.3L856.4 126.2L857.2 125.9L858.0 125.6L858.9 125.4L859.7 125.1L860.6 124.8M867.3 122.6L868.1 122.4L868.9 122.1L869.7 121.8L870.5 121.6L871.4 121.3L872.1 121.1M878.8 118.7L878.9 118.7L880.5 118.1L882.2 117.5L883.5 117.1M890.3 114.7L890.4 114.6L892.1 114.0L893.7 113.4L895.0 112.9M901.7 110.3L902.0 110.2L903.6 109.6L905.2 108.9L906.5 108.5M913.2 105.8L913.4 105.7L915.0 105.0L916.6 104.4L917.9 103.8M924.6 100.9L924.7 100.9L926.3 100.2L927.9 99.5L929.3 98.8M936.0 95.9L936.7 95.5L937.5 95.2L938.3 94.8L939.1 94.4L939.9 94.0L940.7 93.7M947.4 90.5L947.9 90.3L949.5 89.5L951.0 88.8L952.1 88.3M958.7 84.9L958.9 84.8L960.5 84.0L962.1 83.2L963.4 82.6M970.1 79.0L970.6 78.7L972.2 77.9L973.7 77.0L974.7 76.4M981.3 72.7L981.6 72.6L983.3 71.6L985.0 70.6L986.0 70.0M992.6 66.2L992.6 66.2L992.8 66.1L993.1 65.9L993.3 65.8" stroke="#3366ff"/>
<path class="d" d="M259.0 66.0L259.2 66.6L260.1 69.3L261.0 72.1L262.0 74.9M266.8 86.1L267.1 86.6L268.1 88.4L269.0 90.1L270.1 91.9L270.6 92.9M276.2 102.0L276.7 102.8L277.9 104.7L279.1 106.6L280.2 108.3M286.1 116.4L286.7 117.1L287.6 118.2L288.5 119.3L289.5 120.5L290.3 121.5M296.5 128.2L297.3 129.0L298.2 130.0L299.1 130.9L300.0 131.8L300.7 132.5L300.9 132.6M307.2 138.3L307.6 138.6L308.8 139.6L310.1 140.7L311.5 141.8L311.7 142.0M318.1 146.9L318.2 147.0L319.6 148.1L321.0 149.1L322.4 150.1L322.7 150.3M329.2 154.9L329.5 155.1L330.9 156.1L332.3 157.1L333.7 158.1L333.8 158.1M340.3 162.5L340.9 162.9L342.3 163.8L343.8 164.7L344.9 165.4M351.4 169.4L351.9 169.6L353.4 170.5L354.9 171.4L356.1 172.0M362.7 175.6L363.2 175.9L364.7 176.7L366.3 177.5L367.3 178.1M374.0 181.2L374.1 181.3L375.6 182.0L377.2 182.8L378.7 183.4M385.3 186.4L386.0 186.6L387.5 187.3L389.1 188.0L390.0 188.3M396.7 191.0L397.2 191.2L398.8 191.8L400.4 192.4L401.4 192.8M408.1 195.2L408.6 195.4L410.2 196.0L411.9 196.5L412.8 196.9M419.5 199.1L420.1 199.3L421.0 199.6L421.8 199.8L422.6 200.1L423.4 200.4L424.2 200.6M430.9 202.8L431.8 203.0L432.6 203.3L433.4 203.5L434.3 203.8L435.1 204.0L435.7 204.2M442.4 206.2L442.6 206.3L444.3 206.8L446.0 207.3L447.1 207.6M453.8 209.6L454.4 209.7L456.0 210.2L457.7 210.7L458.6 211.0M465.3 213.0L465.3 213.0L467.0 213.5L468.7 214.0L470.0 214.4M476.7 216.4L477.1 216.5L478.7 217.0L480.4 217.5L481.5 217.8M488.2 219.9L488.8 220.1L489.6 220.4L490.4 220.6L491.3 220.9L492.1 221.2L492.9 221.5M499.6 223.7L500.4 224.0L501.3 224.2L502.1 224.5L503.0 224.8L503.8 225.0L504.3 225.2M511.0 227.5L511.2 227.6L512.9 228.2L514.5 228.8L515.8 229.2M522.5 231.5L522.8 231.6L524.5 232.2L526.1 232.8L527.2 233.2M533.9 235.6L534.4 235.7L536.0 236.3L537.6 236.9L538.6 237.2M545.3 239.7L545.9 239.9L546.7 240.2L547.5 240.5L548.4 240.8L549.2 241.1L550.0 241.4M556.7 243.8L557.5 244.0L558.3 244.3L559.1 244.6L559.9 244.9L560.8 245.2L561.4 245.4M568.1 247.9L568.2 247.9L569.8 248.5L571.5 249.1L572.8 249.5M579.5 251.9L579.7 252.0L581.4 252.6L583.0 253.1L584.2 253.6M590.9 255.9L591.3 256.0L592.9 256.6L594.6 257.1L595.7 257.5M602.4 259.7L602.8 259.9L604.5 260.4L606.1 261.0L607.1 261.3M613.8 263.5L614.5 263.7L615.3 264.0L616.1 264.3L616.9 264.5L617.8 264.8L618.5 265.1M625.2 267.2L625.2 267.2L626.9 267.7L628.6 268.2L629.9 268.7M636.7 270.8L636.9 270.9L638.6 271.4L640.3 271.9L641.4 272.3M648.1 274.4L648.6 274.6L650.3 275.1L652.0 275.6L652.8 275.9M659.5 278.1L660.3 278.3L661.1 278.6L662.0 278.9L662.8 279.1L663.6 279.4L664.3 279.6M671.0 281.8L671.2 281.8L672.8 282.4L674.5 282.9L675.7 283.3M682.4 285.6L682.8 285.7L684.5 286.3L686.1 286.9L687.1 287.2M693.8 289.6L694.4 289.8L696.0 290.4L697.7 291.0L698.5 291.3M705.2 293.9L705.9 294.2L706.7 294.5L707.5 294.8L708.3 295.1L709.1 295.4L709.9 295.7M716.6 298.5L717.3 298.8L718.1 299.1L718.9 299.5L719.7 299.8L720.5 300.1L721.3 300.5M727.9 303.4L728.6 303.7L730.2 304.4L731.8 305.2L732.6 305.6M739.3 308.7L739.8 308.9L741.3 309.7L742.9 310.5L743.9 311.0M750.5 314.3L750.8 314.4L752.4 315.2L753.9 316.0L755.2 316.6M761.8 320.0L762.5 320.3L764.1 321.1L765.6 321.9L766.5 322.4M773.1 325.8L773.4 326.0L775.0 326.8L776.5 327.6L777.8 328.2M784.4 331.6L785.1 332.0L786.6 332.7L788.2 333.5L789.1 333.9M795.7 337.0L796.1 337.2L797.6 337.9L799.2 338.6L800.4 339.1M807.1 341.8L807.2 341.9L808.8 342.5L810.4 343.1L811.8 343.7M818.5 346.1L818.6 346.2L820.2 346.7L821.9 347.3L823.2 347.8M829.9 350.1L830.1 350.2L831.8 350.8L833.4 351.3L834.6 351.8M841.3 354.2L841.7 354.3L843.3 354.9L845.0 355.5L846.0 355.9M852.7 358.6L853.1 358.7L854.8 359.4L856.4 360.1L857.4 360.5M864.0 363.6L864.5 363.8L866.1 364.6L867.7 365.4L868.7 365.9M875.3 369.5L875.6 369.7L877.1 370.6L878.7 371.5L879.9 372.2M886.4 376.5L887.0 376.8L888.4 377.9L889.9 378.9L891.0 379.7M897.5 384.5L897.8 384.7L899.2 385.8L900.6 386.9L902.0 388.0L902.0 388.1M908.4 393.2L908.9 393.6L910.3 394.8L911.6 395.9L912.9 397.1M919.2 402.9L919.7 403.4L921.0 404.7L922.3 406.0L923.5 407.4L923.6 407.5M929.6 415.0L930.1 415.7L931.2 417.3L932.3 418.9L933.4 420.5L933.6 420.9M939.1 430.5L939.1 430.7L940.4 433.3L941.7 435.9L942.7 438.0M947.3 449.7L947.6 450.4L948.5 453.1L949.4 455.9L950.3 458.6M954.2 471.7L954.3 472.1L955.1 474.8L955.8 477.4L956.4 480.0L956.8 481.3M960.5 494.8L960.6 495.4L961.8 499.5L962.7 502.8L963.1 504.2" stroke="#3366ff"/>
<path class="d" d="M259.0 422.0L259.0 421.6L259.3 419.2L259.5 416.6L259.7 410.7M259.9 394.5L259.9 394.1L259.9 391.6L260.0 389.2L260.0 386.8L260.0 384.4L260.1 383.1M260.8 367.0L260.8 366.4L261.1 362.5L261.4 358.8L261.7 355.8M264.6 341.2L264.7 340.8L265.4 338.3L266.2 335.9L267.1 333.5L267.5 332.2M272.2 320.6L272.3 320.4L273.2 318.6L274.1 316.8L275.0 315.0L275.9 313.3M281.5 304.1L282.0 303.4L282.6 302.5L283.3 301.7L284.2 300.7L285.1 299.6L285.8 298.8M292.0 292.2L292.4 291.8L293.5 290.7L294.7 289.7L295.8 288.6L296.4 288.1M302.9 283.0L302.9 283.0L304.3 282.1L305.7 281.3L307.1 280.5L307.6 280.2M314.2 276.8L314.4 276.7L316.0 275.9L317.5 275.2L318.9 274.6M325.6 271.6L326.2 271.4L327.8 270.7L329.4 270.0L330.3 269.6M337.0 267.0L337.5 266.8L339.1 266.2L340.7 265.5L341.8 265.1M348.5 262.6L348.9 262.5L350.5 261.9L352.2 261.4L353.2 261.0M360.0 258.8L360.4 258.7L362.1 258.2L363.7 257.7L364.7 257.4M371.5 255.5L372.1 255.3L372.9 255.1L373.8 254.9L374.6 254.7L375.5 254.4L376.3 254.2M383.0 252.5L383.1 252.5L384.8 252.1L386.5 251.8L387.8 251.5M394.6 250.0L395.0 249.9L396.7 249.6L398.4 249.3L399.4 249.1M406.1 247.8L406.1 247.8L407.8 247.5L409.6 247.2L410.9 246.9M417.7 245.6L418.2 245.5L419.9 245.2L421.6 244.9L422.5 244.8M429.3 243.5L429.4 243.4L431.1 243.1L432.8 242.7L434.0 242.5M440.8 241.0L441.4 240.8L442.2 240.6L443.1 240.4L443.9 240.2L444.8 240.0L445.6 239.8M452.4 238.1L452.5 238.0L454.2 237.6L455.9 237.1L457.1 236.7M463.9 234.7L464.3 234.5L466.0 234.0L467.6 233.5L468.6 233.2M475.4 230.9L476.0 230.7L476.8 230.4L477.7 230.1L478.5 229.8L479.3 229.5L480.1 229.2M486.8 226.8L487.6 226.5L488.4 226.2L489.2 225.9L490.0 225.6L490.9 225.3L491.6 225.0M498.3 222.6L499.0 222.3L499.8 222.0L500.7 221.7L501.5 221.4L502.3 221.1L503.0 220.8M509.7 218.3L509.8 218.3L511.4 217.7L513.0 217.1L514.5 216.6M521.2 214.2L522.0 213.9L522.9 213.6L523.7 213.3L524.5 213.0L525.3 212.7L526.0 212.5M532.7 210.2L532.8 210.2L534.4 209.6L536.0 209.1L537.5 208.6M544.2 206.3L544.4 206.3L546.0 205.7L547.7 205.2L548.9 204.8M555.7 202.6L556.0 202.5L557.6 202.0L559.3 201.5L560.4 201.1M567.2 199.0L567.7 198.9L569.3 198.3L571.0 197.8L571.9 197.5M578.7 195.5L579.4 195.3L580.2 195.0L581.0 194.8L581.9 194.5L582.7 194.3L583.4 194.0M590.2 192.1L590.3 192.0L591.9 191.6L593.6 191.1L595.0 190.7M601.7 188.8L602.0 188.7L603.7 188.2L605.3 187.8L606.5 187.4M613.2 185.6L613.8 185.4L615.5 185.0L617.2 184.5L618.0 184.3M624.8 182.4L625.6 182.2L626.4 182.0L627.3 181.7L628.1 181.5L629.0 181.3L629.5 181.1M636.3 179.3L636.6 179.3L638.3 178.8L640.0 178.4L641.1 178.1M647.8 176.4L648.5 176.2L649.3 176.0L650.2 175.8L651.0 175.5L651.9 175.3L652.6 175.1M659.4 173.4L659.4 173.4L661.1 172.9L662.8 172.5L664.1 172.2M670.9 170.5L671.4 170.4L673.0 170.0L674.7 169.5L675.7 169.3M682.4 167.6L683.2 167.4L684.1 167.2L684.9 167.0L685.8 166.8L686.6 166.6L687.2 166.5M694.0 164.8L694.3 164.7L696.0 164.3L697.7 163.9L698.7 163.7M705.5 162.0L706.2 161.9L707.0 161.6L707.9 161.4L708.7 161.2L709.6 161.0L710.3 160.9M717.0 159.2L717.2 159.2L718.9 158.8L720.6 158.3L721.8 158.1M728.6 156.4L729.1 156.3L730.0 156.1L730.8 155.9L731.7 155.7L732.5 155.5L733.4 155.3M740.1 153.6L740.2 153.6L741.9 153.2L743.6 152.8L744.9 152.4M751.7 150.7L752.1 150.6L753.8 150.2L755.5 149.8L756.4 149.6M763.2 147.9L764.0 147.7L764.8 147.5L765.7 147.3L766.5 147.1L767.4 146.9L768.0 146.7M774.7 145.0L775.0 145.0L776.7 144.5L778.4 144.1L779.5 143.8M786.3 142.1L786.9 141.9L787.7 141.7L788.6 141.5L789.4 141.3L790.3 141.1L791.0 140.9M797.8 139.1L797.9 139.1L799.6 138.6L801.3 138.2L802.6 137.8M809.3 136.0L809.8 135.8L811.5 135.4L813.2 134.9L814.1 134.7M820.9 132.8L821.6 132.6L822.4 132.4L823.3 132.1L824.1 131.9L825.0 131.6L825.6 131.4M832.4 129.4L832.5 129.4L834.2 128.9L835.8 128.4L837.1 128.0M843.9 125.9L844.2 125.8L845.9 125.3L847.6 124.8L848.6 124.4M855.4 122.3L855.9 122.1L857.6 121.5L859.3 121.0L860.1 120.7M866.9 118.4L867.6 118.2L868.4 117.9L869.2 117.6L870.1 117.3L870.9 117.0L871.6 116.8M878.3 114.4L878.4 114.4L880.0 113.8L881.7 113.2L883.1 112.7M889.8 110.1L889.8 110.1L891.5 109.5L893.1 108.9L894.5 108.3M901.2 105.6L901.3 105.6L902.9 105.0L904.6 104.3L906.0 103.7M912.7 100.9L912.7 100.9L914.3 100.2L915.9 99.5L917.4 98.9M924.1 95.9L924.8 95.6L925.6 95.2L926.4 94.9L927.2 94.5L928.0 94.1L928.8 93.8M935.5 90.6L936.0 90.4L937.5 89.6L939.1 88.9L940.2 88.4M946.8 85.0L947.0 84.9L948.6 84.1L950.1 83.3L951.5 82.6M958.2 79.2L958.7 78.8L960.3 78.0L961.8 77.2L962.8 76.6M969.5 72.9L969.8 72.7L971.4 71.8L973.0 70.9L974.1 70.3M980.7 66.4L980.9 66.3L981.2 66.1L981.4 66.0L981.7 65.8" stroke="#ff00ff"/>
<path class="d" d="M259.0 66.0L259.2 66.6L260.1 69.3L261.0 72.1L262.0 75.0M266.9 86.2L267.1 86.6L268.1 88.4L269.0 90.1L270.0 91.9L270.7 93.1M276.4 102.0L276.9 102.8L278.2 104.7L279.5 106.6L280.5 108.0M286.4 115.8L286.6 116.0L287.5 117.0L288.3 118.0L289.2 119.1L290.1 120.1L290.7 120.8M296.9 127.5L297.4 128.0L299.2 129.8L300.7 131.2L301.4 131.9M307.7 137.6L308.2 138.0L309.4 139.1L310.7 140.2L312.0 141.3L312.2 141.5M318.7 146.8L318.7 146.8L320.0 147.9L321.4 148.9L322.7 150.0L323.2 150.4M329.7 155.3L330.3 155.8L331.7 156.8L333.1 157.8L334.3 158.7M340.8 163.2L340.9 163.3L342.3 164.2L343.7 165.2L345.1 166.1L345.4 166.3M352.0 170.3L352.5 170.6L354.0 171.5L355.4 172.3L356.7 173.0M363.3 176.6L363.7 176.9L365.3 177.6L366.8 178.4L368.0 179.0M374.7 182.1L375.4 182.4L376.9 183.1L378.5 183.8L379.4 184.1M386.1 186.9L386.6 187.1L388.2 187.7L389.8 188.4L390.8 188.8M397.6 191.2L397.9 191.3L399.6 191.9L401.2 192.5L402.3 192.8M409.0 195.0L409.4 195.2L411.1 195.7L412.8 196.3L413.8 196.6M420.5 198.7L421.1 198.9L422.8 199.4L424.5 199.9L425.3 200.2M432.0 202.2L432.8 202.5L433.7 202.7L434.5 203.0L435.4 203.2L436.2 203.5L436.8 203.7M443.6 205.7L443.7 205.8L445.4 206.3L447.1 206.8L448.3 207.2M455.1 209.3L455.4 209.4L457.1 210.0L458.8 210.5L459.8 210.8M466.5 213.1L467.1 213.2L468.7 213.7L470.4 214.3L471.3 214.6M478.0 216.8L478.8 217.0L479.6 217.3L480.4 217.5L481.3 217.8L482.1 218.1L482.8 218.3M489.5 220.5L489.6 220.5L491.3 221.1L492.9 221.6L494.3 222.1M501.0 224.3L501.2 224.3L502.9 224.9L504.6 225.5L505.8 225.9M512.5 228.2L512.8 228.3L514.5 228.8L516.1 229.4L517.3 229.7M524.0 232.0L524.5 232.1L526.1 232.7L527.8 233.2L528.8 233.6M535.5 235.9L536.0 236.1L537.7 236.6L539.3 237.2L540.2 237.5M547.0 239.8L547.7 240.0L548.5 240.3L549.3 240.6L550.1 240.9L551.0 241.2L551.7 241.5M558.4 243.8L559.2 244.0L560.1 244.3L560.9 244.6L561.7 244.9L562.6 245.2L563.2 245.4M569.9 247.6L570.0 247.7L571.7 248.2L573.4 248.8L574.7 249.3M581.4 251.6L581.6 251.6L583.2 252.2L584.9 252.8L586.2 253.2M592.9 255.6L593.2 255.7L594.8 256.2L596.5 256.8L597.6 257.2M604.4 259.5L604.8 259.6L606.4 260.2L608.1 260.7L609.1 261.1M615.9 263.5L616.4 263.6L618.0 264.2L619.7 264.8L620.6 265.1M627.3 267.4L627.9 267.6L628.8 267.9L629.6 268.1L630.5 268.4L631.3 268.7L632.1 269.0M638.8 271.3L639.5 271.5L640.4 271.8L641.2 272.1L642.0 272.4L642.9 272.6L643.6 272.9M650.3 275.2L650.3 275.2L652.0 275.7L653.7 276.3L655.1 276.7M661.8 279.0L661.9 279.0L663.6 279.6L665.2 280.1L666.5 280.6M673.3 282.8L673.6 282.9L675.2 283.5L676.9 284.0L678.0 284.4M684.8 286.7L685.1 286.8L686.8 287.3L688.5 287.9L689.5 288.3M696.2 290.6L696.8 290.8L698.4 291.4L700.1 292.0L701.0 292.3M707.7 294.8L708.3 295.1L710.0 295.7L711.6 296.3L712.5 296.6M719.2 299.4L719.8 299.6L721.4 300.3L723.0 301.0L723.9 301.3M730.6 304.3L731.1 304.5L732.7 305.3L734.3 306.0L735.3 306.4M741.9 309.6L742.3 309.8L743.9 310.6L745.5 311.4L746.6 312.0M753.3 315.4L754.0 315.8L755.6 316.6L757.2 317.3L758.0 317.8M764.6 321.1L764.9 321.3L766.5 322.1L768.1 322.8L769.3 323.5M776.0 326.7L776.7 327.0L778.2 327.8L779.8 328.5L780.7 328.9M787.4 332.0L787.8 332.2L789.4 332.9L790.9 333.6L792.1 334.1M798.8 337.1L798.9 337.1L800.5 337.9L802.1 338.6L803.5 339.2M810.2 342.1L810.9 342.4L811.7 342.8L812.5 343.1L813.3 343.5L814.1 343.8L814.9 344.2M821.6 347.1L822.1 347.3L823.7 348.0L825.3 348.7L826.3 349.2M833.0 352.1L833.4 352.3L835.0 353.0L836.6 353.7L837.7 354.2M844.4 357.2L844.6 357.2L846.2 358.0L847.8 358.7L849.1 359.3M855.8 362.3L856.6 362.7L857.4 363.1L858.1 363.4L858.9 363.8L859.7 364.2L860.5 364.6M867.2 367.9L867.6 368.1L869.2 368.9L870.8 369.7L871.9 370.3M878.5 373.9L878.6 374.0L880.1 374.9L881.7 375.8L883.1 376.7M889.7 380.9L890.0 381.1L891.4 382.2L892.9 383.2L894.3 384.2M900.8 389.2L900.8 389.3L902.2 390.4L903.6 391.6L905.0 392.7L905.3 393.0M911.6 398.8L911.7 398.8L913.0 400.1L914.2 401.4L915.5 402.7L916.1 403.3M922.2 410.1L922.3 410.2L923.5 411.5L924.7 412.9L925.9 414.3L926.6 415.1M932.5 423.1L932.6 423.3L933.7 425.0L934.8 426.6L935.8 428.3L936.5 429.4M941.7 439.7L941.8 439.9L943.0 442.7L944.1 445.5L945.0 447.9M949.3 460.5L949.4 460.9L950.3 463.6L951.1 466.2L951.9 468.9L952.2 469.7M955.9 483.2L956.1 483.8L956.8 486.4L957.5 489.0L958.2 491.6L958.5 492.7M962.2 506.4L962.2 506.6L962.3 506.7L962.3 506.9L962.4 507.1L962.4 507.3L962.5 507.5" stroke="#ff00ff"/>
</g>
<text class="t" font-size="50.5" text-anchor="end" transform="translate(203.3 921.5) scale(1 1.08)">0.0</text>
<text class="t" font-size="50.5" text-anchor="end" transform="translate(203.3 833.1) scale(1 1.08)">0.2</text>
<text class="t" font-size="50.5" text-anchor="end" transform="translate(203.3 744.7) scale(1 1.08)">0.4</text>
<text class="t" font-size="50.5" text-anchor="end" transform="translate(203.3 656.3) scale(1 1.08)">0.6</text>
<text class="t" font-size="50.5" text-anchor="end" transform="translate(203.3 567.9) scale(1 1.08)">0.8</text>
<text class="t" font-size="50.5" text-anchor="end" transform="translate(203.3 479.5) scale(1 1.08)">1.0</text>
<text class="t" font-size="50.5" text-anchor="end" transform="translate(203.3 391.1) scale(1 1.08)">1.2</text>
<text class="t" font-size="50.5" text-anchor="end" transform="translate(203.3 302.7) scale(1 1.08)">1.4</text>
<text class="t" font-size="50.5" text-anchor="end" transform="translate(203.3 214.3) scale(1 1.08)">1.6</text>
<text class="t" font-size="50.5" text-anchor="end" transform="translate(203.3 125.9) scale(1 1.08)">1.8</text>
<text class="t" font-size="50.5" text-anchor="end" transform="translate(203.3 37.5) scale(1 1.08)">2.0</text>
<text class="t" font-size="50.5" text-anchor="middle" transform="translate(258.9 980.7) scale(1 1.08)">0</text>
<text class="t" font-size="50.5" text-anchor="middle" transform="translate(576.5 980.7) scale(1 1.08)">50</text>
<text class="t" font-size="50.5" text-anchor="middle" transform="translate(894.6 980.7) scale(1 1.08)">100</text>
<text class="t" font-size="50.5" text-anchor="middle" transform="translate(1211.4 980.7) scale(1 1.08)">150</text>
<text class="t" font-size="50.5" text-anchor="middle" transform="translate(1527.0 980.7) scale(1 1.08)">200</text>
<text class="t" font-size="72" transform="translate(616.2 1075.6) scale(1 1.036)">Capacity/Ahkg<tspan font-size="47" dx="-1.5" dy="-20.3">-1</tspan></text>
<text class="t" font-size="73.4" text-anchor="middle" transform="translate(54.8 464.0) rotate(-90) scale(1 1.025)">Potential/V</text>
<rect x="258.6" y="541.3" width="749.6" height="362.5" fill="#fff" stroke="#2b4f93" stroke-width="3.3"/>
<text class="t" font-size="53.6" style="fill:#000" transform="translate(398.0 607.2) scale(1 1.035)"><tspan class="m" lang="ja" font-size="42.2" x="-104.0" y="-5.5">－</tspan><tspan class="j" lang="ja" font-size="46" x="-50.5" y="-3.2">：</tspan><tspan x="0" y="0">Cycle </tspan><tspan dx="7.8">1</tspan></text>
<text class="t" font-size="53.6" style="fill:#ff0000" transform="translate(741.1 607.2) scale(1 1.035)"><tspan class="m" lang="ja" font-size="42.2" x="-104.0" y="-5.5">－</tspan><tspan class="j" lang="ja" font-size="46" x="-50.5" y="-3.2">：</tspan><tspan x="0" y="0">Cycle </tspan><tspan dx="6.5">2</tspan></text>
<text class="t" font-size="53.6" style="fill:#00b050" transform="translate(398.0 674.6) scale(1 1.035)"><tspan class="m" lang="ja" font-size="42.2" x="-104.0" y="-5.5">－</tspan><tspan class="j" lang="ja" font-size="46" x="-50.5" y="-3.2">：</tspan><tspan x="0" y="0">Cycle </tspan><tspan dx="7.8">3</tspan></text>
<text class="t" font-size="53.6" style="fill:#0000ff" transform="translate(741.1 674.6) scale(1 1.035)"><tspan class="m" lang="ja" font-size="42.2" x="-104.0" y="-5.5">－</tspan><tspan class="j" lang="ja" font-size="46" x="-50.5" y="-3.2">：</tspan><tspan x="0" y="0">Cycle </tspan><tspan dx="7.8">4</tspan></text>
<text class="t" font-size="53.6" style="fill:#ff00ff" transform="translate(398.0 742.0) scale(1 1.035)"><tspan class="m" lang="ja" font-size="42.2" x="-104.0" y="-5.5">－</tspan><tspan class="j" lang="ja" font-size="46" x="-50.5" y="-3.2">：</tspan><tspan x="0" y="0">Cycle </tspan><tspan dx="7.8">5</tspan></text>
<text class="t" font-size="53.6" style="fill:#ffc000" transform="translate(741.1 742.0) scale(1 1.035)"><tspan class="m" lang="ja" font-size="42.2" x="-104.0" y="-5.5">－</tspan><tspan class="j" lang="ja" font-size="46" x="-50.5" y="-3.2">：</tspan><tspan x="0" y="0">Cycle </tspan><tspan dx="7.8">6</tspan></text>
<text class="t" font-size="53.6" style="fill:#ff0000" transform="translate(404.3 809.4) scale(1 1.035)"><tspan class="j" lang="ja" font-size="50.7" x="-118.5" y="5.1">…</tspan><tspan class="j" lang="ja" font-size="46" x="-50.8" y="-3.2">：</tspan><tspan x="0" y="0">Cycle </tspan><tspan dx="7.8">7</tspan></text>
<text class="t" font-size="53.6" style="fill:#00b050" transform="translate(753.1 809.4) scale(1 1.035)"><tspan class="j" lang="ja" font-size="50.7" x="-118.5" y="5.1">…</tspan><tspan class="j" lang="ja" font-size="46" x="-50.8" y="-3.2">：</tspan><tspan x="0" y="0">Cycle </tspan><tspan dx="7.8">8</tspan></text>
<text class="t" font-size="53.6" style="fill:#0000ff" transform="translate(404.3 876.8) scale(1 1.035)"><tspan class="j" lang="ja" font-size="50.7" x="-118.5" y="5.1">…</tspan><tspan class="j" lang="ja" font-size="46" x="-50.8" y="-3.2">：</tspan><tspan x="0" y="0">Cycle </tspan><tspan dx="7.8">9</tspan></text>
<text class="t" font-size="53.6" style="fill:#ff00ff" transform="translate(753.1 876.8) scale(1 1.035)"><tspan class="j" lang="ja" font-size="50.7" x="-118.5" y="5.1">…</tspan><tspan class="j" lang="ja" font-size="46" x="-50.8" y="-3.2">：</tspan><tspan x="0" y="0">Cycle </tspan><tspan dx="7.8">10</tspan></text>
</g></svg></body></html>
